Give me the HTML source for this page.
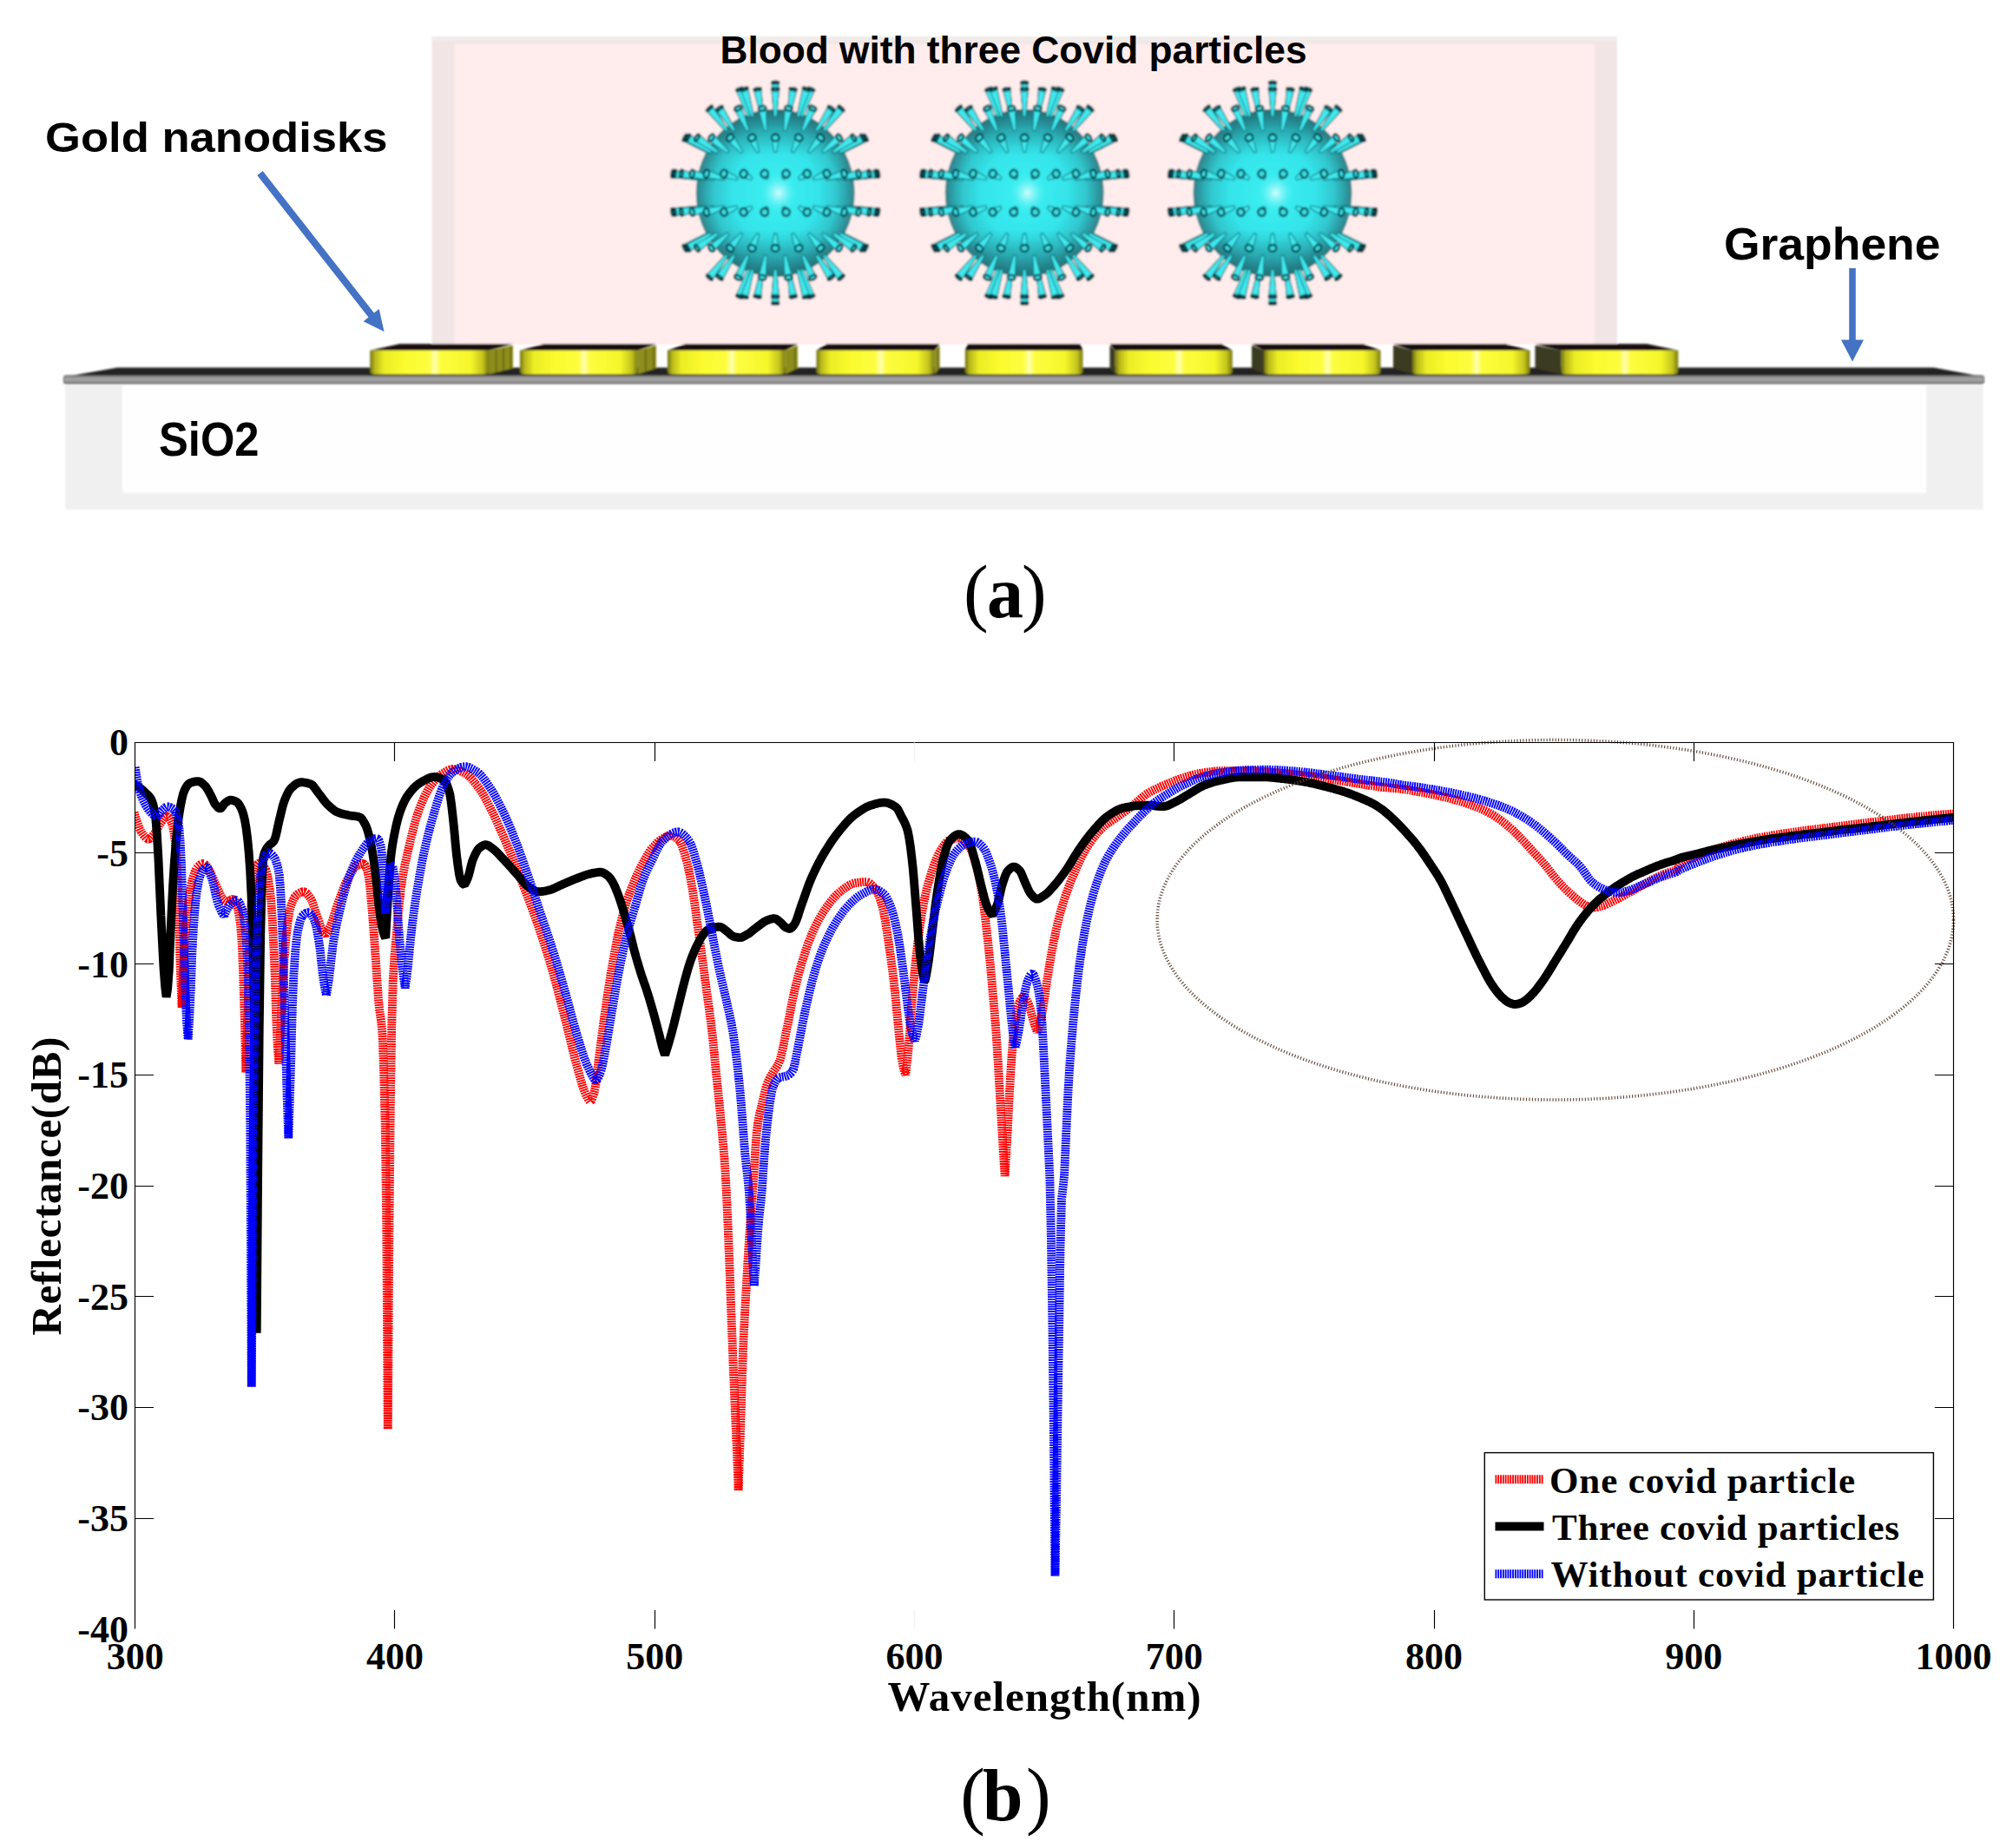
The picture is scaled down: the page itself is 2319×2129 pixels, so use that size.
<!DOCTYPE html><html><head><meta charset="utf-8"><title>Figure</title><style>
html,body{margin:0;padding:0;background:#fff}svg{display:block}
.sp{fill:#3fe9ee;stroke:#0f6f77;stroke-width:1}.cp{fill:#3adfe6;stroke:#04343a;stroke-width:2.2}
.tk{font-family:"Liberation Serif",serif;font-weight:bold;font-size:44px;fill:#000}
.lb{font-family:"Liberation Serif",serif;font-weight:bold;font-size:49px;fill:#000}
.lg{font-family:"Liberation Serif",serif;font-weight:bold;font-size:43px;fill:#000}
.sa{font-family:"Liberation Sans",sans-serif;font-weight:bold;fill:#000}
.cap{font-family:"Liberation Serif",serif;fill:#000}
.ax{stroke:#000;stroke-width:1.15;fill:none}
</style></head><body>
<svg width="2319" height="2129" viewBox="0 0 2319 2129">
<defs>
<radialGradient id="sph" cx="0.5" cy="0.5" r="0.5"><stop offset="0" stop-color="#3cf0f2"/><stop offset="0.55" stop-color="#34e4ea"/><stop offset="0.78" stop-color="#30c6cd"/><stop offset="0.92" stop-color="#2c9ba3"/><stop offset="1" stop-color="#357f86"/></radialGradient>
<radialGradient id="sph2" cx="0.52" cy="0.5" r="0.12"><stop offset="0" stop-color="#d9fdfd" stop-opacity="0.95"/><stop offset="0.5" stop-color="#8ff6f8" stop-opacity="0.5"/><stop offset="1" stop-color="#38eef2" stop-opacity="0"/></radialGradient>
<linearGradient id="gold" x1="0" x2="1" y1="0" y2="0"><stop offset="0" stop-color="#6e6e10"/><stop offset="0.04" stop-color="#b9b91c"/><stop offset="0.12" stop-color="#eded26"/><stop offset="0.3" stop-color="#fbfb2e"/><stop offset="0.5" stop-color="#fdfd40"/><stop offset="0.545" stop-color="#ffffb4"/><stop offset="0.59" stop-color="#fdfd40"/><stop offset="0.85" stop-color="#f6f62a"/><stop offset="0.95" stop-color="#c4c41e"/><stop offset="1" stop-color="#77770f"/></linearGradient>
<linearGradient id="gry" x1="0" x2="0" y1="0" y2="1"><stop offset="0" stop-color="#8a8a8a"/><stop offset="0.5" stop-color="#a6a6a6"/><stop offset="1" stop-color="#7c7c7c"/></linearGradient>
<filter id="soft" x="0" y="0" width="2319" height="620" filterUnits="userSpaceOnUse"><feGaussianBlur stdDeviation="0.85"/></filter>
<linearGradient id="sph3" x1="0" x2="0" y1="0" y2="1"><stop offset="0" stop-color="#185a62" stop-opacity="0.5"/><stop offset="0.28" stop-color="#185a62" stop-opacity="0"/><stop offset="0.72" stop-color="#185a62" stop-opacity="0"/><stop offset="1" stop-color="#185a62" stop-opacity="0.5"/></linearGradient>
<symbol id="virus" overflow="visible"><g transform="scale(1,1.057)"><g><polygon points="85.7,-13.9 116.7,-16.7 115.2,-25.1 85.1,-16.9" class="sp"/><ellipse cx="116.0" cy="-20.9" rx="1.3" ry="4.3" transform="rotate(-10.2 116.0 -20.9)" class="cp"/><polygon points="80.0,-13.9 109.1,-16.7 107.5,-25.1 79.5,-16.9" class="sp"/><ellipse cx="108.3" cy="-20.9" rx="1.7" ry="4.3" transform="rotate(-10.9 108.3 -20.9)" class="cp"/><polygon points="71.0,-13.9 96.8,-16.7 95.0,-25.1 70.3,-16.9" class="sp"/><ellipse cx="95.9" cy="-20.9" rx="2.5" ry="4.3" transform="rotate(-12.3 95.9 -20.9)" class="cp"/><polygon points="58.8,-13.9 80.4,-16.7 78.2,-25.1 58.0,-16.8" class="sp"/><ellipse cx="79.3" cy="-20.9" rx="3.1" ry="4.3" transform="rotate(-14.8 79.3 -20.9)" class="cp"/><polygon points="44.2,-14.0 60.7,-16.9 57.9,-25.0 43.2,-16.8" class="sp"/><ellipse cx="59.3" cy="-20.9" rx="3.7" ry="4.3" transform="rotate(-19.4 59.3 -20.9)" class="cp"/><polygon points="27.7,-14.1 38.8,-17.2 34.5,-24.6 26.2,-16.7" class="sp"/><ellipse cx="36.6" cy="-20.9" rx="4.0" ry="4.3" transform="rotate(-29.7 36.6 -20.9)" class="cp"/><polygon points="10.4,-14.6 16.1,-18.7 8.7,-23.1 7.8,-16.2" class="sp"/><ellipse cx="12.4" cy="-20.9" rx="4.2" ry="4.3" transform="rotate(-59.3 12.4 -20.9)" class="cp"/><polygon points="-7.8,-16.2 -8.7,-23.1 -16.1,-18.7 -10.4,-14.6" class="sp"/><ellipse cx="-12.4" cy="-20.9" rx="4.2" ry="4.3" transform="rotate(-120.7 -12.4 -20.9)" class="cp"/><polygon points="-26.2,-16.7 -34.5,-24.6 -38.8,-17.2 -27.7,-14.1" class="sp"/><ellipse cx="-36.6" cy="-20.9" rx="4.0" ry="4.3" transform="rotate(-150.3 -36.6 -20.9)" class="cp"/><polygon points="-43.2,-16.8 -57.9,-25.0 -60.7,-16.9 -44.2,-14.0" class="sp"/><ellipse cx="-59.3" cy="-20.9" rx="3.7" ry="4.3" transform="rotate(-160.6 -59.3 -20.9)" class="cp"/><polygon points="-58.0,-16.8 -78.2,-25.1 -80.4,-16.7 -58.8,-13.9" class="sp"/><ellipse cx="-79.3" cy="-20.9" rx="3.1" ry="4.3" transform="rotate(-165.2 -79.3 -20.9)" class="cp"/><polygon points="-70.3,-16.9 -95.0,-25.1 -96.8,-16.7 -71.0,-13.9" class="sp"/><ellipse cx="-95.9" cy="-20.9" rx="2.5" ry="4.3" transform="rotate(-167.7 -95.9 -20.9)" class="cp"/><polygon points="-79.5,-16.9 -107.5,-25.1 -109.1,-16.7 -80.0,-13.9" class="sp"/><ellipse cx="-108.3" cy="-20.9" rx="1.7" ry="4.3" transform="rotate(-169.1 -108.3 -20.9)" class="cp"/><polygon points="-85.1,-16.9 -115.2,-25.1 -116.7,-16.7 -85.7,-13.9" class="sp"/><ellipse cx="-116.0" cy="-20.9" rx="1.3" ry="4.3" transform="rotate(-169.8 -116.0 -20.9)" class="cp"/><polygon points="85.1,16.9 115.2,25.1 116.7,16.7 85.7,13.9" class="sp"/><ellipse cx="116.0" cy="20.9" rx="1.3" ry="4.3" transform="rotate(10.2 116.0 20.9)" class="cp"/><polygon points="79.5,16.9 107.5,25.1 109.1,16.7 80.0,13.9" class="sp"/><ellipse cx="108.3" cy="20.9" rx="1.7" ry="4.3" transform="rotate(10.9 108.3 20.9)" class="cp"/><polygon points="70.3,16.9 95.0,25.1 96.8,16.7 71.0,13.9" class="sp"/><ellipse cx="95.9" cy="20.9" rx="2.5" ry="4.3" transform="rotate(12.3 95.9 20.9)" class="cp"/><polygon points="58.0,16.8 78.2,25.1 80.4,16.7 58.8,13.9" class="sp"/><ellipse cx="79.3" cy="20.9" rx="3.1" ry="4.3" transform="rotate(14.8 79.3 20.9)" class="cp"/><polygon points="43.2,16.8 57.9,25.0 60.7,16.9 44.2,14.0" class="sp"/><ellipse cx="59.3" cy="20.9" rx="3.7" ry="4.3" transform="rotate(19.4 59.3 20.9)" class="cp"/><polygon points="26.2,16.7 34.5,24.6 38.8,17.2 27.7,14.1" class="sp"/><ellipse cx="36.6" cy="20.9" rx="4.0" ry="4.3" transform="rotate(29.7 36.6 20.9)" class="cp"/><polygon points="7.8,16.2 8.7,23.1 16.1,18.7 10.4,14.6" class="sp"/><ellipse cx="12.4" cy="20.9" rx="4.2" ry="4.3" transform="rotate(59.3 12.4 20.9)" class="cp"/><polygon points="-10.4,14.6 -16.1,18.7 -8.7,23.1 -7.8,16.2" class="sp"/><ellipse cx="-12.4" cy="20.9" rx="4.2" ry="4.3" transform="rotate(120.7 -12.4 20.9)" class="cp"/><polygon points="-27.7,14.1 -38.8,17.2 -34.5,24.6 -26.2,16.7" class="sp"/><ellipse cx="-36.6" cy="20.9" rx="4.0" ry="4.3" transform="rotate(150.3 -36.6 20.9)" class="cp"/><polygon points="-44.2,14.0 -60.7,16.9 -57.9,25.0 -43.2,16.8" class="sp"/><ellipse cx="-59.3" cy="20.9" rx="3.7" ry="4.3" transform="rotate(160.6 -59.3 20.9)" class="cp"/><polygon points="-58.8,13.9 -80.4,16.7 -78.2,25.1 -58.0,16.8" class="sp"/><ellipse cx="-79.3" cy="20.9" rx="3.1" ry="4.3" transform="rotate(165.2 -79.3 20.9)" class="cp"/><polygon points="-71.0,13.9 -96.8,16.7 -95.0,25.1 -70.3,16.9" class="sp"/><ellipse cx="-95.9" cy="20.9" rx="2.5" ry="4.3" transform="rotate(167.7 -95.9 20.9)" class="cp"/><polygon points="-80.0,13.9 -109.1,16.7 -107.5,25.1 -79.5,16.9" class="sp"/><ellipse cx="-108.3" cy="20.9" rx="1.7" ry="4.3" transform="rotate(169.1 -108.3 20.9)" class="cp"/><polygon points="-85.7,13.9 -116.7,16.7 -115.2,25.1 -85.1,16.9" class="sp"/><ellipse cx="-116.0" cy="20.9" rx="1.3" ry="4.3" transform="rotate(169.8 -116.0 20.9)" class="cp"/><polygon points="74.9,-43.0 102.9,-56.5 98.5,-63.9 73.4,-45.6" class="sp"/><ellipse cx="100.7" cy="-60.2" rx="1.3" ry="4.3" transform="rotate(-30.9 100.7 -60.2)" class="cp"/><polygon points="67.3,-43.1 92.7,-56.6 87.9,-63.8 65.7,-45.6" class="sp"/><ellipse cx="90.3" cy="-60.2" rx="1.9" ry="4.3" transform="rotate(-33.7 90.3 -60.2)" class="cp"/><polygon points="55.2,-43.2 76.4,-56.9 71.0,-63.5 53.3,-45.5" class="sp"/><ellipse cx="73.7" cy="-60.2" rx="2.6" ry="4.3" transform="rotate(-39.2 73.7 -60.2)" class="cp"/><polygon points="39.5,-43.3 55.4,-57.4 48.9,-63.0 37.3,-45.3" class="sp"/><ellipse cx="52.1" cy="-60.2" rx="3.2" ry="4.3" transform="rotate(-49.1 52.1 -60.2)" class="cp"/><polygon points="21.2,-43.7 30.9,-58.4 23.1,-62.0 18.5,-44.9" class="sp"/><ellipse cx="27.0" cy="-60.2" rx="3.6" ry="4.3" transform="rotate(-65.9 27.0 -60.2)" class="cp"/><polygon points="1.5,-44.3 4.3,-60.2 -4.3,-60.2 -1.5,-44.3" class="sp"/><ellipse cx="0.0" cy="-60.2" rx="3.7" ry="4.3" transform="rotate(-90.0 0.0 -60.2)" class="cp"/><polygon points="-18.5,-44.9 -23.1,-62.0 -30.9,-58.4 -21.2,-43.7" class="sp"/><ellipse cx="-27.0" cy="-60.2" rx="3.6" ry="4.3" transform="rotate(-114.1 -27.0 -60.2)" class="cp"/><polygon points="-37.3,-45.3 -48.9,-63.0 -55.4,-57.4 -39.5,-43.3" class="sp"/><ellipse cx="-52.1" cy="-60.2" rx="3.2" ry="4.3" transform="rotate(-130.9 -52.1 -60.2)" class="cp"/><polygon points="-53.3,-45.5 -71.0,-63.5 -76.4,-56.9 -55.2,-43.2" class="sp"/><ellipse cx="-73.7" cy="-60.2" rx="2.6" ry="4.3" transform="rotate(-140.8 -73.7 -60.2)" class="cp"/><polygon points="-65.7,-45.6 -87.9,-63.8 -92.7,-56.6 -67.3,-43.1" class="sp"/><ellipse cx="-90.3" cy="-60.2" rx="1.9" ry="4.3" transform="rotate(-146.3 -90.3 -60.2)" class="cp"/><polygon points="-73.4,-45.6 -98.5,-63.9 -102.9,-56.5 -74.9,-43.0" class="sp"/><ellipse cx="-100.7" cy="-60.2" rx="1.3" ry="4.3" transform="rotate(-149.1 -100.7 -60.2)" class="cp"/><polygon points="73.4,45.6 98.5,63.9 102.9,56.5 74.9,43.0" class="sp"/><ellipse cx="100.7" cy="60.2" rx="1.3" ry="4.3" transform="rotate(30.9 100.7 60.2)" class="cp"/><polygon points="65.7,45.6 87.9,63.8 92.7,56.6 67.3,43.1" class="sp"/><ellipse cx="90.3" cy="60.2" rx="1.9" ry="4.3" transform="rotate(33.7 90.3 60.2)" class="cp"/><polygon points="53.3,45.5 71.0,63.5 76.4,56.9 55.2,43.2" class="sp"/><ellipse cx="73.7" cy="60.2" rx="2.6" ry="4.3" transform="rotate(39.2 73.7 60.2)" class="cp"/><polygon points="37.3,45.3 48.9,63.0 55.4,57.4 39.5,43.3" class="sp"/><ellipse cx="52.1" cy="60.2" rx="3.2" ry="4.3" transform="rotate(49.1 52.1 60.2)" class="cp"/><polygon points="18.5,44.9 23.1,62.0 30.9,58.4 21.2,43.7" class="sp"/><ellipse cx="27.0" cy="60.2" rx="3.6" ry="4.3" transform="rotate(65.9 27.0 60.2)" class="cp"/><polygon points="-1.5,44.3 -4.3,60.2 4.3,60.2 1.5,44.3" class="sp"/><ellipse cx="0.0" cy="60.2" rx="3.7" ry="4.3" transform="rotate(90.0 0.0 60.2)" class="cp"/><polygon points="-21.2,43.7 -30.9,58.4 -23.1,62.0 -18.5,44.9" class="sp"/><ellipse cx="-27.0" cy="60.2" rx="3.6" ry="4.3" transform="rotate(114.1 -27.0 60.2)" class="cp"/><polygon points="-39.5,43.3 -55.4,57.4 -48.9,63.0 -37.3,45.3" class="sp"/><ellipse cx="-52.1" cy="60.2" rx="3.2" ry="4.3" transform="rotate(130.9 -52.1 60.2)" class="cp"/><polygon points="-55.2,43.2 -76.4,56.9 -71.0,63.5 -53.3,45.5" class="sp"/><ellipse cx="-73.7" cy="60.2" rx="2.6" ry="4.3" transform="rotate(140.8 -73.7 60.2)" class="cp"/><polygon points="-67.3,43.1 -92.7,56.6 -87.9,63.8 -65.7,45.6" class="sp"/><ellipse cx="-90.3" cy="60.2" rx="1.9" ry="4.3" transform="rotate(146.3 -90.3 60.2)" class="cp"/><polygon points="-74.9,43.0 -102.9,56.5 -98.5,63.9 -73.4,45.6" class="sp"/><ellipse cx="-100.7" cy="60.2" rx="1.3" ry="4.3" transform="rotate(149.1 -100.7 60.2)" class="cp"/><polygon points="57.1,-67.0 79.2,-89.5 72.6,-95.0 54.7,-68.9" class="sp"/><ellipse cx="75.9" cy="-92.2" rx="1.3" ry="4.3" transform="rotate(-50.5 75.9 -92.2)" class="cp"/><polygon points="48.6,-67.1 67.9,-89.8 60.8,-94.7 46.2,-68.8" class="sp"/><ellipse cx="64.3" cy="-92.2" rx="1.5" ry="4.3" transform="rotate(-55.1 64.3 -92.2)" class="cp"/><polygon points="33.0,-67.3 46.9,-90.4 39.1,-94.0 30.3,-68.5" class="sp"/><ellipse cx="43.0" cy="-92.2" rx="2.3" ry="4.3" transform="rotate(-65.0 43.0 -92.2)" class="cp"/><polygon points="12.6,-67.7 19.3,-91.5 10.9,-92.9 9.6,-68.2" class="sp"/><ellipse cx="15.1" cy="-92.2" rx="2.7" ry="4.3" transform="rotate(-80.7 15.1 -92.2)" class="cp"/><polygon points="-9.6,-68.2 -10.9,-92.9 -19.3,-91.5 -12.6,-67.7" class="sp"/><ellipse cx="-15.1" cy="-92.2" rx="2.7" ry="4.3" transform="rotate(-99.3 -15.1 -92.2)" class="cp"/><polygon points="-30.3,-68.5 -39.1,-94.0 -46.9,-90.4 -33.0,-67.3" class="sp"/><ellipse cx="-43.0" cy="-92.2" rx="2.3" ry="4.3" transform="rotate(-115.0 -43.0 -92.2)" class="cp"/><polygon points="-46.2,-68.8 -60.8,-94.7 -67.9,-89.8 -48.6,-67.1" class="sp"/><ellipse cx="-64.3" cy="-92.2" rx="1.5" ry="4.3" transform="rotate(-124.9 -64.3 -92.2)" class="cp"/><polygon points="-54.7,-68.9 -72.6,-95.0 -79.2,-89.5 -57.1,-67.0" class="sp"/><ellipse cx="-75.9" cy="-92.2" rx="1.3" ry="4.3" transform="rotate(-129.5 -75.9 -92.2)" class="cp"/><polygon points="54.7,68.9 72.6,95.0 79.2,89.5 57.1,67.0" class="sp"/><ellipse cx="75.9" cy="92.2" rx="1.3" ry="4.3" transform="rotate(50.5 75.9 92.2)" class="cp"/><polygon points="46.2,68.8 60.8,94.7 67.9,89.8 48.6,67.1" class="sp"/><ellipse cx="64.3" cy="92.2" rx="1.5" ry="4.3" transform="rotate(55.1 64.3 92.2)" class="cp"/><polygon points="30.3,68.5 39.1,94.0 46.9,90.4 33.0,67.3" class="sp"/><ellipse cx="43.0" cy="92.2" rx="2.3" ry="4.3" transform="rotate(65.0 43.0 92.2)" class="cp"/><polygon points="9.6,68.2 10.9,92.9 19.3,91.5 12.6,67.7" class="sp"/><ellipse cx="15.1" cy="92.2" rx="2.7" ry="4.3" transform="rotate(80.7 15.1 92.2)" class="cp"/><polygon points="-12.6,67.7 -19.3,91.5 -10.9,92.9 -9.6,68.2" class="sp"/><ellipse cx="-15.1" cy="92.2" rx="2.7" ry="4.3" transform="rotate(99.3 -15.1 92.2)" class="cp"/><polygon points="-33.0,67.3 -46.9,90.4 -39.1,94.0 -30.3,68.5" class="sp"/><ellipse cx="-43.0" cy="92.2" rx="2.3" ry="4.3" transform="rotate(115.0 -43.0 92.2)" class="cp"/><polygon points="-48.6,67.1 -67.9,89.8 -60.8,94.7 -46.2,68.8" class="sp"/><ellipse cx="-64.3" cy="92.2" rx="1.5" ry="4.3" transform="rotate(124.9 -64.3 92.2)" class="cp"/><polygon points="-57.1,67.0 -79.2,89.5 -72.6,95.0 -54.7,68.9" class="sp"/><ellipse cx="-75.9" cy="92.2" rx="1.3" ry="4.3" transform="rotate(129.5 -75.9 92.2)" class="cp"/><polygon points="27.7,-82.9 39.8,-111.8 31.6,-114.4 24.8,-83.8" class="sp"/><ellipse cx="35.7" cy="-113.1" rx="1.3" ry="4.3" transform="rotate(-72.5 35.7 -113.1)" class="cp"/><polygon points="16.6,-83.0 24.8,-112.4 16.4,-113.9 13.7,-83.6" class="sp"/><ellipse cx="20.6" cy="-113.1" rx="1.3" ry="4.3" transform="rotate(-79.7 20.6 -113.1)" class="cp"/><polygon points="1.5,-83.3 4.3,-113.1 -4.3,-113.1 -1.5,-83.3" class="sp"/><ellipse cx="0.0" cy="-113.1" rx="1.5" ry="4.3" transform="rotate(-90.0 0.0 -113.1)" class="cp"/><polygon points="-13.7,-83.6 -16.4,-113.9 -24.8,-112.4 -16.6,-83.0" class="sp"/><ellipse cx="-20.6" cy="-113.1" rx="1.3" ry="4.3" transform="rotate(-100.3 -20.6 -113.1)" class="cp"/><polygon points="-24.8,-83.8 -31.6,-114.4 -39.8,-111.8 -27.7,-82.9" class="sp"/><ellipse cx="-35.7" cy="-113.1" rx="1.3" ry="4.3" transform="rotate(-107.5 -35.7 -113.1)" class="cp"/><polygon points="24.8,83.8 31.6,114.4 39.8,111.8 27.7,82.9" class="sp"/><ellipse cx="35.7" cy="113.1" rx="1.3" ry="4.3" transform="rotate(72.5 35.7 113.1)" class="cp"/><polygon points="13.7,83.6 16.4,113.9 24.8,112.4 16.6,83.0" class="sp"/><ellipse cx="20.6" cy="113.1" rx="1.3" ry="4.3" transform="rotate(79.7 20.6 113.1)" class="cp"/><polygon points="-1.5,83.3 -4.3,113.1 4.3,113.1 1.5,83.3" class="sp"/><ellipse cx="0.0" cy="113.1" rx="1.5" ry="4.3" transform="rotate(90.0 0.0 113.1)" class="cp"/><polygon points="-16.6,83.0 -24.8,112.4 -16.4,113.9 -13.7,83.6" class="sp"/><ellipse cx="-20.6" cy="113.1" rx="1.3" ry="4.3" transform="rotate(100.3 -20.6 113.1)" class="cp"/><polygon points="-27.7,82.9 -39.8,111.8 -31.6,114.4 -24.8,83.8" class="sp"/><ellipse cx="-35.7" cy="113.1" rx="1.3" ry="4.3" transform="rotate(107.5 -35.7 113.1)" class="cp"/></g><circle r="91.4" fill="url(#sph)"/><circle r="91.4" fill="url(#sph3)"/><circle r="91.4" fill="url(#sph2)"/><g><polygon points="-87.1,-16.9 -117.8,-25.1 -119.3,-16.7 -87.6,-13.9" class="sp"/><ellipse cx="-118.6" cy="-20.9" rx="1.3" ry="4.3" transform="rotate(-170.0 -118.6 -20.9)" class="cp"/><polygon points="-87.6,13.9 -119.3,16.7 -117.8,25.1 -87.1,16.9" class="sp"/><ellipse cx="-118.6" cy="20.9" rx="1.3" ry="4.3" transform="rotate(170.0 -118.6 20.9)" class="cp"/><polygon points="-76.0,-45.6 -102.1,-63.9 -106.4,-56.5 -77.5,-43.0" class="sp"/><ellipse cx="-104.3" cy="-60.2" rx="1.3" ry="4.3" transform="rotate(-150.0 -104.3 -60.2)" class="cp"/><polygon points="-77.5,43.0 -106.4,56.5 -102.1,63.9 -76.0,45.6" class="sp"/><ellipse cx="-104.3" cy="60.2" rx="1.3" ry="4.3" transform="rotate(150.0 -104.3 60.2)" class="cp"/><polygon points="-28.9,-83.8 -37.1,-114.6 -45.2,-111.7 -31.7,-82.8" class="sp"/><ellipse cx="-41.2" cy="-113.1" rx="1.3" ry="4.3" transform="rotate(-110.0 -41.2 -113.1)" class="cp"/><polygon points="-31.7,82.8 -45.2,111.7 -37.1,114.6 -28.9,83.8" class="sp"/><ellipse cx="-41.2" cy="113.1" rx="1.3" ry="4.3" transform="rotate(110.0 -41.2 113.1)" class="cp"/><polygon points="1.5,-88.7 4.3,-120.4 -4.3,-120.4 -1.5,-88.7" class="sp"/><ellipse cx="0.0" cy="-120.4" rx="1.3" ry="4.3" transform="rotate(-90.0 0.0 -120.4)" class="cp"/><polygon points="-1.5,88.7 -4.3,120.4 4.3,120.4 1.5,88.7" class="sp"/><ellipse cx="0.0" cy="120.4" rx="1.3" ry="4.3" transform="rotate(90.0 0.0 120.4)" class="cp"/><polygon points="31.7,-82.8 45.2,-111.7 37.1,-114.6 28.9,-83.8" class="sp"/><ellipse cx="41.2" cy="-113.1" rx="1.3" ry="4.3" transform="rotate(-70.0 41.2 -113.1)" class="cp"/><polygon points="28.9,83.8 37.1,114.6 45.2,111.7 31.7,82.8" class="sp"/><ellipse cx="41.2" cy="113.1" rx="1.3" ry="4.3" transform="rotate(70.0 41.2 113.1)" class="cp"/><polygon points="77.5,-43.0 106.4,-56.5 102.1,-63.9 76.0,-45.6" class="sp"/><ellipse cx="104.3" cy="-60.2" rx="1.3" ry="4.3" transform="rotate(-30.0 104.3 -60.2)" class="cp"/><polygon points="76.0,45.6 102.1,63.9 106.4,56.5 77.5,43.0" class="sp"/><ellipse cx="104.3" cy="60.2" rx="1.3" ry="4.3" transform="rotate(30.0 104.3 60.2)" class="cp"/><polygon points="87.6,-13.9 119.3,-16.7 117.8,-25.1 87.1,-16.9" class="sp"/><ellipse cx="118.6" cy="-20.9" rx="1.3" ry="4.3" transform="rotate(-10.0 118.6 -20.9)" class="cp"/><polygon points="87.1,16.9 117.8,25.1 119.3,16.7 87.6,13.9" class="sp"/><ellipse cx="118.6" cy="20.9" rx="1.3" ry="4.3" transform="rotate(10.0 118.6 20.9)" class="cp"/><polygon points="-54.7,-68.9 -72.6,-95.0 -79.2,-89.5 -57.1,-67.0" class="sp"/><ellipse cx="-75.9" cy="-92.2" rx="1.3" ry="4.3" transform="rotate(-129.5 -75.9 -92.2)" class="cp"/><polygon points="-57.1,67.0 -79.2,89.5 -72.6,95.0 -54.7,68.9" class="sp"/><ellipse cx="-75.9" cy="92.2" rx="1.3" ry="4.3" transform="rotate(129.5 -75.9 92.2)" class="cp"/><polygon points="57.1,-67.0 79.2,-89.5 72.6,-95.0 54.7,-68.9" class="sp"/><ellipse cx="75.9" cy="-92.2" rx="1.3" ry="4.3" transform="rotate(-50.5 75.9 -92.2)" class="cp"/><polygon points="54.7,68.9 72.6,95.0 79.2,89.5 57.1,67.0" class="sp"/><ellipse cx="75.9" cy="92.2" rx="1.3" ry="4.3" transform="rotate(50.5 75.9 92.2)" class="cp"/><polygon points="27.7,-82.9 39.8,-111.8 31.6,-114.4 24.8,-83.8" class="sp"/><ellipse cx="35.7" cy="-113.1" rx="1.3" ry="4.3" transform="rotate(-72.5 35.7 -113.1)" class="cp"/><polygon points="-24.8,-83.8 -31.6,-114.4 -39.8,-111.8 -27.7,-82.9" class="sp"/><ellipse cx="-35.7" cy="-113.1" rx="1.3" ry="4.3" transform="rotate(-107.5 -35.7 -113.1)" class="cp"/><polygon points="24.8,83.8 31.6,114.4 39.8,111.8 27.7,82.9" class="sp"/><ellipse cx="35.7" cy="113.1" rx="1.3" ry="4.3" transform="rotate(72.5 35.7 113.1)" class="cp"/><polygon points="-27.7,82.9 -39.8,111.8 -31.6,114.4 -24.8,83.8" class="sp"/><ellipse cx="-35.7" cy="113.1" rx="1.3" ry="4.3" transform="rotate(107.5 -35.7 113.1)" class="cp"/><polygon points="-85.1,-16.9 -115.2,-25.1 -116.7,-16.7 -85.7,-13.9" class="sp"/><ellipse cx="-116.0" cy="-20.9" rx="1.3" ry="4.3" transform="rotate(-169.8 -116.0 -20.9)" class="cp"/><polygon points="-85.7,13.9 -116.7,16.7 -115.2,25.1 -85.1,16.9" class="sp"/><ellipse cx="-116.0" cy="20.9" rx="1.3" ry="4.3" transform="rotate(169.8 -116.0 20.9)" class="cp"/><polygon points="85.7,-13.9 116.7,-16.7 115.2,-25.1 85.1,-16.9" class="sp"/><ellipse cx="116.0" cy="-20.9" rx="1.3" ry="4.3" transform="rotate(-10.2 116.0 -20.9)" class="cp"/><polygon points="85.1,16.9 115.2,25.1 116.7,16.7 85.7,13.9" class="sp"/><ellipse cx="116.0" cy="20.9" rx="1.3" ry="4.3" transform="rotate(10.2 116.0 20.9)" class="cp"/><polygon points="-73.4,-45.6 -98.5,-63.9 -102.9,-56.5 -74.9,-43.0" class="sp"/><ellipse cx="-100.7" cy="-60.2" rx="1.3" ry="4.3" transform="rotate(-149.1 -100.7 -60.2)" class="cp"/><polygon points="-74.9,43.0 -102.9,56.5 -98.5,63.9 -73.4,45.6" class="sp"/><ellipse cx="-100.7" cy="60.2" rx="1.3" ry="4.3" transform="rotate(149.1 -100.7 60.2)" class="cp"/><polygon points="74.9,-43.0 102.9,-56.5 98.5,-63.9 73.4,-45.6" class="sp"/><ellipse cx="100.7" cy="-60.2" rx="1.3" ry="4.3" transform="rotate(-30.9 100.7 -60.2)" class="cp"/><polygon points="73.4,45.6 98.5,63.9 102.9,56.5 74.9,43.0" class="sp"/><ellipse cx="100.7" cy="60.2" rx="1.3" ry="4.3" transform="rotate(30.9 100.7 60.2)" class="cp"/><polygon points="-13.7,-83.6 -16.4,-113.9 -24.8,-112.4 -16.6,-83.0" class="sp"/><ellipse cx="-20.6" cy="-113.1" rx="1.3" ry="4.3" transform="rotate(-100.3 -20.6 -113.1)" class="cp"/><polygon points="-16.6,83.0 -24.8,112.4 -16.4,113.9 -13.7,83.6" class="sp"/><ellipse cx="-20.6" cy="113.1" rx="1.3" ry="4.3" transform="rotate(100.3 -20.6 113.1)" class="cp"/><polygon points="16.6,-83.0 24.8,-112.4 16.4,-113.9 13.7,-83.6" class="sp"/><ellipse cx="20.6" cy="-113.1" rx="1.3" ry="4.3" transform="rotate(-79.7 20.6 -113.1)" class="cp"/><polygon points="13.7,83.6 16.4,113.9 24.8,112.4 16.6,83.0" class="sp"/><ellipse cx="20.6" cy="113.1" rx="1.3" ry="4.3" transform="rotate(79.7 20.6 113.1)" class="cp"/><polygon points="1.5,-83.3 4.3,-113.1 -4.3,-113.1 -1.5,-83.3" class="sp"/><ellipse cx="0.0" cy="-113.1" rx="1.5" ry="4.3" transform="rotate(-90.0 0.0 -113.1)" class="cp"/><polygon points="-1.5,83.3 -4.3,113.1 4.3,113.1 1.5,83.3" class="sp"/><ellipse cx="0.0" cy="113.1" rx="1.5" ry="4.3" transform="rotate(90.0 0.0 113.1)" class="cp"/><polygon points="-46.2,-68.8 -60.8,-94.7 -67.9,-89.8 -48.6,-67.1" class="sp"/><ellipse cx="-64.3" cy="-92.2" rx="1.5" ry="4.3" transform="rotate(-124.9 -64.3 -92.2)" class="cp"/><polygon points="-48.6,67.1 -67.9,89.8 -60.8,94.7 -46.2,68.8" class="sp"/><ellipse cx="-64.3" cy="92.2" rx="1.5" ry="4.3" transform="rotate(124.9 -64.3 92.2)" class="cp"/><polygon points="48.6,-67.1 67.9,-89.8 60.8,-94.7 46.2,-68.8" class="sp"/><ellipse cx="64.3" cy="-92.2" rx="1.5" ry="4.3" transform="rotate(-55.1 64.3 -92.2)" class="cp"/><polygon points="46.2,68.8 60.8,94.7 67.9,89.8 48.6,67.1" class="sp"/><ellipse cx="64.3" cy="92.2" rx="1.5" ry="4.3" transform="rotate(55.1 64.3 92.2)" class="cp"/><polygon points="-79.5,-16.9 -107.5,-25.1 -109.1,-16.7 -80.0,-13.9" class="sp"/><ellipse cx="-108.3" cy="-20.9" rx="1.7" ry="4.3" transform="rotate(-169.1 -108.3 -20.9)" class="cp"/><polygon points="-80.0,13.9 -109.1,16.7 -107.5,25.1 -79.5,16.9" class="sp"/><ellipse cx="-108.3" cy="20.9" rx="1.7" ry="4.3" transform="rotate(169.1 -108.3 20.9)" class="cp"/><polygon points="80.0,-13.9 109.1,-16.7 107.5,-25.1 79.5,-16.9" class="sp"/><ellipse cx="108.3" cy="-20.9" rx="1.7" ry="4.3" transform="rotate(-10.9 108.3 -20.9)" class="cp"/><polygon points="79.5,16.9 107.5,25.1 109.1,16.7 80.0,13.9" class="sp"/><ellipse cx="108.3" cy="20.9" rx="1.7" ry="4.3" transform="rotate(10.9 108.3 20.9)" class="cp"/><polygon points="67.3,-43.1 92.7,-56.6 87.9,-63.8 65.7,-45.6" class="sp"/><ellipse cx="90.3" cy="-60.2" rx="1.9" ry="4.3" transform="rotate(-33.7 90.3 -60.2)" class="cp"/><polygon points="-65.7,-45.6 -87.9,-63.8 -92.7,-56.6 -67.3,-43.1" class="sp"/><ellipse cx="-90.3" cy="-60.2" rx="1.9" ry="4.3" transform="rotate(-146.3 -90.3 -60.2)" class="cp"/><polygon points="65.7,45.6 87.9,63.8 92.7,56.6 67.3,43.1" class="sp"/><ellipse cx="90.3" cy="60.2" rx="1.9" ry="4.3" transform="rotate(33.7 90.3 60.2)" class="cp"/><polygon points="-67.3,43.1 -92.7,56.6 -87.9,63.8 -65.7,45.6" class="sp"/><ellipse cx="-90.3" cy="60.2" rx="1.9" ry="4.3" transform="rotate(146.3 -90.3 60.2)" class="cp"/><polygon points="33.0,-67.3 46.9,-90.4 39.1,-94.0 30.3,-68.5" class="sp"/><ellipse cx="43.0" cy="-92.2" rx="2.3" ry="4.3" transform="rotate(-65.0 43.0 -92.2)" class="cp"/><polygon points="-30.3,-68.5 -39.1,-94.0 -46.9,-90.4 -33.0,-67.3" class="sp"/><ellipse cx="-43.0" cy="-92.2" rx="2.3" ry="4.3" transform="rotate(-115.0 -43.0 -92.2)" class="cp"/><polygon points="30.3,68.5 39.1,94.0 46.9,90.4 33.0,67.3" class="sp"/><ellipse cx="43.0" cy="92.2" rx="2.3" ry="4.3" transform="rotate(65.0 43.0 92.2)" class="cp"/><polygon points="-33.0,67.3 -46.9,90.4 -39.1,94.0 -30.3,68.5" class="sp"/><ellipse cx="-43.0" cy="92.2" rx="2.3" ry="4.3" transform="rotate(115.0 -43.0 92.2)" class="cp"/><polygon points="-70.3,-16.9 -95.0,-25.1 -96.8,-16.7 -71.0,-13.9" class="sp"/><ellipse cx="-95.9" cy="-20.9" rx="2.5" ry="4.3" transform="rotate(-167.7 -95.9 -20.9)" class="cp"/><polygon points="-71.0,13.9 -96.8,16.7 -95.0,25.1 -70.3,16.9" class="sp"/><ellipse cx="-95.9" cy="20.9" rx="2.5" ry="4.3" transform="rotate(167.7 -95.9 20.9)" class="cp"/><polygon points="71.0,-13.9 96.8,-16.7 95.0,-25.1 70.3,-16.9" class="sp"/><ellipse cx="95.9" cy="-20.9" rx="2.5" ry="4.3" transform="rotate(-12.3 95.9 -20.9)" class="cp"/><polygon points="70.3,16.9 95.0,25.1 96.8,16.7 71.0,13.9" class="sp"/><ellipse cx="95.9" cy="20.9" rx="2.5" ry="4.3" transform="rotate(12.3 95.9 20.9)" class="cp"/><polygon points="-53.3,-45.5 -71.0,-63.5 -76.4,-56.9 -55.2,-43.2" class="sp"/><ellipse cx="-73.7" cy="-60.2" rx="2.6" ry="4.3" transform="rotate(-140.8 -73.7 -60.2)" class="cp"/><polygon points="-55.2,43.2 -76.4,56.9 -71.0,63.5 -53.3,45.5" class="sp"/><ellipse cx="-73.7" cy="60.2" rx="2.6" ry="4.3" transform="rotate(140.8 -73.7 60.2)" class="cp"/><polygon points="55.2,-43.2 76.4,-56.9 71.0,-63.5 53.3,-45.5" class="sp"/><ellipse cx="73.7" cy="-60.2" rx="2.6" ry="4.3" transform="rotate(-39.2 73.7 -60.2)" class="cp"/><polygon points="53.3,45.5 71.0,63.5 76.4,56.9 55.2,43.2" class="sp"/><ellipse cx="73.7" cy="60.2" rx="2.6" ry="4.3" transform="rotate(39.2 73.7 60.2)" class="cp"/><polygon points="12.6,-67.7 19.3,-91.5 10.9,-92.9 9.6,-68.2" class="sp"/><ellipse cx="15.1" cy="-92.2" rx="2.7" ry="4.3" transform="rotate(-80.7 15.1 -92.2)" class="cp"/><polygon points="-9.6,-68.2 -10.9,-92.9 -19.3,-91.5 -12.6,-67.7" class="sp"/><ellipse cx="-15.1" cy="-92.2" rx="2.7" ry="4.3" transform="rotate(-99.3 -15.1 -92.2)" class="cp"/><polygon points="9.6,68.2 10.9,92.9 19.3,91.5 12.6,67.7" class="sp"/><ellipse cx="15.1" cy="92.2" rx="2.7" ry="4.3" transform="rotate(80.7 15.1 92.2)" class="cp"/><polygon points="-12.6,67.7 -19.3,91.5 -10.9,92.9 -9.6,68.2" class="sp"/><ellipse cx="-15.1" cy="92.2" rx="2.7" ry="4.3" transform="rotate(99.3 -15.1 92.2)" class="cp"/><polygon points="58.8,-13.9 80.4,-16.7 78.2,-25.1 58.0,-16.8" class="sp"/><ellipse cx="79.3" cy="-20.9" rx="3.1" ry="4.3" transform="rotate(-14.8 79.3 -20.9)" class="cp"/><polygon points="-58.0,-16.8 -78.2,-25.1 -80.4,-16.7 -58.8,-13.9" class="sp"/><ellipse cx="-79.3" cy="-20.9" rx="3.1" ry="4.3" transform="rotate(-165.2 -79.3 -20.9)" class="cp"/><polygon points="58.0,16.8 78.2,25.1 80.4,16.7 58.8,13.9" class="sp"/><ellipse cx="79.3" cy="20.9" rx="3.1" ry="4.3" transform="rotate(14.8 79.3 20.9)" class="cp"/><polygon points="-58.8,13.9 -80.4,16.7 -78.2,25.1 -58.0,16.8" class="sp"/><ellipse cx="-79.3" cy="20.9" rx="3.1" ry="4.3" transform="rotate(165.2 -79.3 20.9)" class="cp"/><polygon points="-37.3,-45.3 -48.9,-63.0 -55.4,-57.4 -39.5,-43.3" class="sp"/><ellipse cx="-52.1" cy="-60.2" rx="3.2" ry="4.3" transform="rotate(-130.9 -52.1 -60.2)" class="cp"/><polygon points="-39.5,43.3 -55.4,57.4 -48.9,63.0 -37.3,45.3" class="sp"/><ellipse cx="-52.1" cy="60.2" rx="3.2" ry="4.3" transform="rotate(130.9 -52.1 60.2)" class="cp"/><polygon points="39.5,-43.3 55.4,-57.4 48.9,-63.0 37.3,-45.3" class="sp"/><ellipse cx="52.1" cy="-60.2" rx="3.2" ry="4.3" transform="rotate(-49.1 52.1 -60.2)" class="cp"/><polygon points="37.3,45.3 48.9,63.0 55.4,57.4 39.5,43.3" class="sp"/><ellipse cx="52.1" cy="60.2" rx="3.2" ry="4.3" transform="rotate(49.1 52.1 60.2)" class="cp"/><polygon points="21.2,-43.7 30.9,-58.4 23.1,-62.0 18.5,-44.9" class="sp"/><ellipse cx="27.0" cy="-60.2" rx="3.6" ry="4.3" transform="rotate(-65.9 27.0 -60.2)" class="cp"/><polygon points="-18.5,-44.9 -23.1,-62.0 -30.9,-58.4 -21.2,-43.7" class="sp"/><ellipse cx="-27.0" cy="-60.2" rx="3.6" ry="4.3" transform="rotate(-114.1 -27.0 -60.2)" class="cp"/><polygon points="18.5,44.9 23.1,62.0 30.9,58.4 21.2,43.7" class="sp"/><ellipse cx="27.0" cy="60.2" rx="3.6" ry="4.3" transform="rotate(65.9 27.0 60.2)" class="cp"/><polygon points="-21.2,43.7 -30.9,58.4 -23.1,62.0 -18.5,44.9" class="sp"/><ellipse cx="-27.0" cy="60.2" rx="3.6" ry="4.3" transform="rotate(114.1 -27.0 60.2)" class="cp"/><polygon points="-43.2,-16.8 -57.9,-25.0 -60.7,-16.9 -44.2,-14.0" class="sp"/><ellipse cx="-59.3" cy="-20.9" rx="3.7" ry="4.3" transform="rotate(-160.6 -59.3 -20.9)" class="cp"/><polygon points="-44.2,14.0 -60.7,16.9 -57.9,25.0 -43.2,16.8" class="sp"/><ellipse cx="-59.3" cy="20.9" rx="3.7" ry="4.3" transform="rotate(160.6 -59.3 20.9)" class="cp"/><polygon points="44.2,-14.0 60.7,-16.9 57.9,-25.0 43.2,-16.8" class="sp"/><ellipse cx="59.3" cy="-20.9" rx="3.7" ry="4.3" transform="rotate(-19.4 59.3 -20.9)" class="cp"/><polygon points="43.2,16.8 57.9,25.0 60.7,16.9 44.2,14.0" class="sp"/><ellipse cx="59.3" cy="20.9" rx="3.7" ry="4.3" transform="rotate(19.4 59.3 20.9)" class="cp"/><polygon points="1.5,-44.3 4.3,-60.2 -4.3,-60.2 -1.5,-44.3" class="sp"/><ellipse cx="0.0" cy="-60.2" rx="3.7" ry="4.3" transform="rotate(-90.0 0.0 -60.2)" class="cp"/><polygon points="-1.5,44.3 -4.3,60.2 4.3,60.2 1.5,44.3" class="sp"/><ellipse cx="0.0" cy="60.2" rx="3.7" ry="4.3" transform="rotate(90.0 0.0 60.2)" class="cp"/><polygon points="27.7,-14.1 38.8,-17.2 34.5,-24.6 26.2,-16.7" class="sp"/><ellipse cx="36.6" cy="-20.9" rx="4.0" ry="4.3" transform="rotate(-29.7 36.6 -20.9)" class="cp"/><polygon points="-26.2,-16.7 -34.5,-24.6 -38.8,-17.2 -27.7,-14.1" class="sp"/><ellipse cx="-36.6" cy="-20.9" rx="4.0" ry="4.3" transform="rotate(-150.3 -36.6 -20.9)" class="cp"/><polygon points="26.2,16.7 34.5,24.6 38.8,17.2 27.7,14.1" class="sp"/><ellipse cx="36.6" cy="20.9" rx="4.0" ry="4.3" transform="rotate(29.7 36.6 20.9)" class="cp"/><polygon points="-27.7,14.1 -38.8,17.2 -34.5,24.6 -26.2,16.7" class="sp"/><ellipse cx="-36.6" cy="20.9" rx="4.0" ry="4.3" transform="rotate(150.3 -36.6 20.9)" class="cp"/><polygon points="10.4,-14.6 16.1,-18.7 8.7,-23.1 7.8,-16.2" class="sp"/><ellipse cx="12.4" cy="-20.9" rx="4.2" ry="4.3" transform="rotate(-59.3 12.4 -20.9)" class="cp"/><polygon points="-7.8,-16.2 -8.7,-23.1 -16.1,-18.7 -10.4,-14.6" class="sp"/><ellipse cx="-12.4" cy="-20.9" rx="4.2" ry="4.3" transform="rotate(-120.7 -12.4 -20.9)" class="cp"/><polygon points="7.8,16.2 8.7,23.1 16.1,18.7 10.4,14.6" class="sp"/><ellipse cx="12.4" cy="20.9" rx="4.2" ry="4.3" transform="rotate(59.3 12.4 20.9)" class="cp"/><polygon points="-10.4,14.6 -16.1,18.7 -8.7,23.1 -7.8,16.2" class="sp"/><ellipse cx="-12.4" cy="20.9" rx="4.2" ry="4.3" transform="rotate(120.7 -12.4 20.9)" class="cp"/></g></g></symbol>
<clipPath id="plot"><rect x="155.5" y="855.5" width="2095.0" height="1021.0"/></clipPath>
</defs>
<rect width="2319" height="2129" fill="#fff"/>
<g id="diagram" filter="url(#soft)">
<rect x="75" y="444" width="2209.5" height="143" fill="#f0f0f0"/>
<rect x="141" y="444" width="2078" height="124" fill="#fefefe"/>
<rect x="497.5" y="42" width="1365.5" height="355" fill="#f1e5e5"/>
<rect x="497.5" y="42" width="1365.5" height="5" fill="#efebe9"/>
<rect x="523.5" y="50.5" width="1313.5" height="346.5" fill="#feedec"/>
<polygon points="78,433.5 135,423.5 2228,423.5 2282,433.5" fill="#222222"/>
<rect x="73.5" y="432.8" width="2212" height="9.2" rx="2" fill="url(#gry)" stroke="#555" stroke-width="1"/>
<polygon points="426.3,403.8 460.3,396.3 591.0,396.3 563.0,403.8" fill="#160808"/>
<polygon points="563.0,403.8 591.0,397.8 591.0,424.3 563.0,431.3" fill="#8d8d1c"/>
<line x1="571.5" y1="403.0" x2="571.5" y2="429.2" stroke="#5e5e12" stroke-width="1.4"/>
<line x1="580.0" y1="401.2" x2="580.0" y2="427.1" stroke="#5e5e12" stroke-width="1.4"/>
<line x1="588.5" y1="399.3" x2="588.5" y2="424.9" stroke="#5e5e12" stroke-width="1.4"/>
<path d="M426.3 403.8 H563.0 V428.3 Q563.0 431.3 557.0 431.3 H432.3 Q426.3 431.3 426.3 428.3 Z" fill="url(#gold)"/>
<polygon points="599.0,403.8 626.5,396.3 756.0,396.3 734.5,403.8" fill="#160808"/>
<polygon points="734.5,403.8 756.0,397.8 756.0,424.3 734.5,431.3" fill="#8d8d1c"/>
<line x1="743.8" y1="402.2" x2="743.8" y2="428.3" stroke="#5e5e12" stroke-width="1.4"/>
<line x1="753.2" y1="399.6" x2="753.2" y2="425.2" stroke="#5e5e12" stroke-width="1.4"/>
<path d="M599.0 403.8 H734.5 V428.3 Q734.5 431.3 728.5 431.3 H605.0 Q599.0 431.3 599.0 428.3 Z" fill="url(#gold)"/>
<polygon points="769.0,403.8 789.5,396.3 919.0,396.3 904.5,403.8" fill="#160808"/>
<polygon points="904.5,403.8 919.0,397.8 919.0,424.3 904.5,431.3" fill="#8d8d1c"/>
<line x1="915.7" y1="400.2" x2="915.7" y2="425.9" stroke="#5e5e12" stroke-width="1.4"/>
<path d="M769.0 403.8 H904.5 V428.3 Q904.5 431.3 898.5 431.3 H775.0 Q769.0 431.3 769.0 428.3 Z" fill="url(#gold)"/>
<polygon points="940.5,403.8 952.5,396.3 1082.5,396.3 1076.5,403.8" fill="#160808"/>
<polygon points="1076.5,403.8 1082.5,397.8 1082.5,424.3 1076.5,431.3" fill="#8d8d1c"/>
<line x1="1081.1" y1="400.2" x2="1081.1" y2="425.9" stroke="#5e5e12" stroke-width="1.4"/>
<path d="M940.5 403.8 H1076.5 V428.3 Q1076.5 431.3 1070.5 431.3 H946.5 Q940.5 431.3 940.5 428.3 Z" fill="url(#gold)"/>
<polygon points="1111.8,403.8 1114.8,396.3 1244.4,396.3 1247.4,403.8" fill="#160808"/>
<path d="M1111.8 403.8 H1247.4 V428.3 Q1247.4 431.3 1241.4 431.3 H1117.8 Q1111.8 431.3 1111.8 428.3 Z" fill="url(#gold)"/>
<polygon points="1284.6,403.8 1278.5,396.3 1407.6,396.3 1419.7,403.8" fill="#160808"/>
<polygon points="1284.6,403.8 1278.5,397.8 1278.5,424.3 1284.6,431.3" fill="#3a3a24"/>
<path d="M1284.6 403.8 H1419.7 V428.3 Q1419.7 431.3 1413.7 431.3 H1290.6 Q1284.6 431.3 1284.6 428.3 Z" fill="url(#gold)"/>
<polygon points="1456.0,403.8 1442.0,396.3 1570.5,396.3 1590.5,403.8" fill="#160808"/>
<polygon points="1456.0,403.8 1442.0,397.8 1442.0,424.3 1456.0,431.3" fill="#3a3a24"/>
<path d="M1456.0 403.8 H1590.5 V428.3 Q1590.5 431.3 1584.5 431.3 H1462.0 Q1456.0 431.3 1456.0 428.3 Z" fill="url(#gold)"/>
<polygon points="1627.0,403.8 1605.0,396.3 1734.5,396.3 1762.5,403.8" fill="#160808"/>
<polygon points="1627.0,403.8 1605.0,397.8 1605.0,424.3 1627.0,431.3" fill="#3a3a24"/>
<path d="M1627.0 403.8 H1762.5 V428.3 Q1762.5 431.3 1756.5 431.3 H1633.0 Q1627.0 431.3 1627.0 428.3 Z" fill="url(#gold)"/>
<polygon points="1798.3,403.8 1768.5,396.3 1897.5,396.3 1933.3,403.8" fill="#160808"/>
<polygon points="1798.3,403.8 1768.5,397.8 1768.5,424.3 1798.3,431.3" fill="#3a3a24"/>
<path d="M1798.3 403.8 H1933.3 V428.3 Q1933.3 431.3 1927.3 431.3 H1804.3 Q1798.3 431.3 1798.3 428.3 Z" fill="url(#gold)"/>
<use href="#virus" x="893.2" y="222.3"/>
<use href="#virus" x="1180.2" y="222.3"/>
<use href="#virus" x="1466.0" y="222.3"/>
</g><g id="labels">
<polygon points="296.3,202.0 424.5,365.6 418.6,370.2 442.5,382.0 436.7,356.0 430.9,360.6 302.7,197.0" fill="#4472c4"/>
<polygon points="2130.2,309.0 2130.2,391.5 2121.0,391.5 2134.0,416.5 2147.0,391.5 2137.8,391.5 2137.8,309.0" fill="#4472c4"/>
<text class="sa" x="829.5" y="73.3" font-size="44" textLength="676" lengthAdjust="spacingAndGlyphs">Blood with three Covid particles</text>
<text class="sa" x="52" y="174.5" font-size="49" textLength="394.5" lengthAdjust="spacingAndGlyphs">Gold nanodisks</text>
<text class="sa" x="1986" y="298.7" font-size="52" textLength="249.5" lengthAdjust="spacingAndGlyphs">Graphene</text>
<text class="sa" x="183" y="525.4" font-size="56" textLength="115.5" lengthAdjust="spacingAndGlyphs">SiO2</text>
</g>
<text class="cap" y="711.3" font-size="86"><tspan x="1110.1">(</tspan><tspan x="1137" font-weight="bold" font-size="84">a</tspan><tspan x="1177.1">)</tspan></text>
<g id="chart">
<g clip-path="url(#plot)">
<path d="M154.5 935.8 L156.0 941.3 L157.6 946.2 L159.1 950.4 L160.6 954.3 L162.2 957.5 L163.7 959.8 L165.2 962.0 L166.8 963.9 L168.3 965.5 L169.8 966.5 L171.3 966.7 L172.9 966.1 L174.4 964.8 L175.9 963.0 L177.5 961.1 L179.0 959.1 L180.5 956.4 L182.1 953.4 L183.6 950.4 L185.1 947.9 L186.7 945.7 L188.2 943.4 L189.7 941.5 L191.3 940.3 L192.8 940.1 L194.3 941.5 L195.9 944.1 L197.4 947.4 L198.9 951.9 L200.4 959.5 L202.0 970.4 L203.5 991.0 L205.0 1023.4 L206.6 1075.9 L208.1 1123.3 L209.6 1160.8 L211.1 1119.1 L212.6 1090.1 L214.1 1067.9 L215.7 1051.0 L217.2 1038.5 L218.7 1028.2 L220.2 1019.8 L221.7 1013.4 L223.2 1008.3 L224.7 1004.0 L226.2 1000.7 L227.7 998.8 L229.2 997.4 L230.7 996.2 L232.2 995.4 L233.7 994.9 L235.2 995.1 L236.7 996.2 L238.2 998.2 L239.7 1000.5 L241.2 1003.0 L242.7 1005.6 L244.2 1008.9 L245.7 1012.5 L247.2 1016.1 L248.7 1019.4 L250.2 1022.8 L251.8 1026.4 L253.3 1029.8 L254.8 1032.8 L256.3 1035.0 L257.8 1036.4 L259.3 1037.7 L260.8 1038.6 L262.3 1039.0 L263.8 1038.6 L265.3 1037.4 L266.8 1036.2 L268.3 1035.7 L269.8 1036.9 L271.3 1039.9 L272.8 1043.9 L274.3 1048.8 L275.8 1056.6 L277.3 1068.3 L278.8 1088.2 L280.3 1125.9 L281.8 1173.7 L283.3 1235.4 L284.9 1182.8 L286.4 1133.1 L287.9 1081.7 L289.4 1044.3 L290.9 1023.1 L292.5 1008.4 L294.0 1001.9 L295.5 998.1 L297.0 995.5 L298.5 994.1 L300.0 994.2 L301.6 995.2 L303.1 996.9 L304.6 999.2 L306.1 1001.9 L307.6 1006.5 L309.2 1014.1 L310.7 1024.3 L312.2 1037.2 L313.7 1058.5 L315.2 1087.5 L316.8 1125.1 L318.3 1175.2 L319.8 1206.3 L321.3 1225.5 L322.9 1191.0 L324.4 1159.9 L325.9 1130.8 L327.5 1104.4 L329.0 1085.3 L330.5 1070.6 L332.1 1058.5 L333.6 1049.6 L335.1 1044.0 L336.7 1039.5 L338.2 1035.9 L339.7 1033.2 L341.3 1031.5 L342.8 1030.2 L344.3 1029.2 L345.9 1028.3 L347.4 1027.6 L348.9 1027.3 L350.5 1027.3 L352.0 1028.1 L353.6 1029.4 L355.1 1031.3 L356.6 1033.4 L358.2 1035.7 L359.7 1038.7 L361.2 1043.0 L362.8 1047.9 L364.3 1052.8 L365.8 1057.1 L367.4 1061.7 L368.9 1066.2 L370.4 1070.2 L372.0 1073.3 L373.5 1075.2 L375.0 1076.5 L376.6 1074.3 L378.1 1071.7 L379.6 1068.8 L381.2 1065.5 L382.7 1061.5 L384.2 1056.8 L385.7 1051.8 L387.3 1046.8 L388.8 1042.2 L390.3 1038.0 L391.8 1033.8 L393.4 1029.6 L394.9 1025.6 L396.4 1021.7 L397.9 1018.1 L399.5 1014.9 L401.0 1012.0 L402.5 1009.2 L404.0 1006.4 L405.6 1003.7 L407.1 1001.4 L408.6 999.3 L410.1 997.8 L411.7 996.8 L413.2 996.2 L414.7 995.6 L416.3 995.2 L417.8 994.9 L419.3 995.1 L420.8 997.2 L422.4 1001.0 L423.9 1006.1 L425.4 1014.4 L426.9 1029.3 L428.5 1046.6 L430.0 1065.2 L431.5 1086.3 L433.0 1107.9 L434.6 1132.0 L436.1 1153.6 L437.6 1166.5 L439.1 1176.1 L440.7 1193.4 L442.2 1237.4 L443.7 1295.5 L445.3 1410.6 L446.8 1646.4 L448.3 1429.0 L449.8 1272.1 L451.3 1178.8 L452.8 1128.6 L454.3 1103.8 L455.8 1086.7 L457.3 1070.2 L458.8 1053.2 L460.3 1037.4 L461.8 1024.0 L463.3 1013.5 L464.8 1004.7 L466.3 997.0 L467.8 990.1 L469.3 983.5 L470.8 977.1 L472.3 970.7 L473.8 964.3 L475.3 958.2 L476.8 952.2 L478.3 946.7 L479.8 941.5 L481.3 936.8 L482.8 932.7 L484.3 928.7 L485.8 925.0 L487.3 921.4 L488.8 918.0 L490.4 914.9 L491.9 912.0 L493.4 909.3 L494.9 906.9 L496.4 904.7 L497.9 902.7 L499.4 900.9 L500.9 899.1 L502.4 897.4 L503.9 895.9 L505.4 894.5 L506.9 893.2 L508.4 892.1 L509.9 891.1 L511.4 890.2 L512.9 889.3 L514.4 888.4 L515.9 887.6 L517.4 886.9 L518.9 886.4 L520.4 886.1 L521.9 886.0 L523.4 886.1 L524.9 886.4 L526.4 886.8 L527.9 887.2 L529.4 887.8 L530.9 888.5 L532.4 889.2 L533.9 889.9 L535.4 890.7 L536.9 891.5 L538.4 892.6 L539.9 893.8 L541.4 895.3 L542.9 896.8 L544.4 898.6 L545.9 900.4 L547.4 902.3 L549.0 904.2 L550.5 906.3 L552.0 908.3 L553.5 910.4 L555.0 912.7 L556.5 915.1 L558.0 917.7 L559.5 920.5 L561.0 923.3 L562.5 926.2 L564.0 929.2 L565.5 932.2 L567.0 935.2 L568.5 938.2 L570.0 941.4 L571.5 944.6 L573.0 947.9 L574.5 951.3 L576.0 954.7 L577.5 958.1 L579.0 961.5 L580.5 965.0 L582.0 968.5 L583.5 972.0 L585.0 975.5 L586.5 979.1 L588.0 982.7 L589.5 986.3 L591.0 990.0 L592.5 993.6 L594.0 997.4 L595.5 1001.1 L597.0 1004.9 L598.5 1008.7 L600.0 1012.6 L601.5 1016.5 L603.0 1020.4 L604.5 1024.4 L606.0 1028.3 L607.6 1032.3 L609.1 1036.4 L610.6 1040.4 L612.1 1044.5 L613.6 1048.6 L615.1 1052.8 L616.6 1056.9 L618.1 1061.2 L619.6 1065.4 L621.1 1069.8 L622.6 1074.2 L624.1 1078.7 L625.6 1083.3 L627.1 1087.9 L628.6 1092.6 L630.1 1097.4 L631.6 1102.2 L633.1 1107.1 L634.6 1112.1 L636.1 1117.2 L637.6 1122.5 L639.1 1127.8 L640.6 1133.4 L642.1 1139.0 L643.6 1144.7 L645.1 1150.6 L646.6 1156.4 L648.1 1162.3 L649.6 1168.2 L651.1 1174.1 L652.6 1180.0 L654.1 1186.1 L655.6 1192.3 L657.1 1198.5 L658.6 1204.7 L660.1 1210.8 L661.6 1216.9 L663.1 1222.7 L664.6 1228.3 L666.2 1233.8 L667.7 1239.4 L669.2 1244.8 L670.7 1249.9 L672.2 1254.5 L673.7 1258.3 L675.2 1261.6 L676.7 1264.6 L678.2 1267.1 L679.7 1269.1 L681.2 1267.8 L682.7 1264.4 L684.2 1259.7 L685.7 1253.3 L687.2 1242.3 L688.7 1229.2 L690.3 1216.5 L691.8 1205.0 L693.3 1193.5 L694.8 1182.1 L696.3 1171.2 L697.8 1160.5 L699.3 1150.0 L700.8 1139.7 L702.4 1129.8 L703.9 1120.5 L705.4 1111.8 L706.9 1103.3 L708.4 1095.1 L709.9 1087.3 L711.4 1079.7 L712.9 1072.6 L714.5 1066.0 L716.0 1059.9 L717.5 1054.1 L719.0 1048.7 L720.5 1043.5 L722.0 1038.6 L723.5 1034.0 L725.0 1029.6 L726.6 1025.4 L728.1 1021.5 L729.6 1017.7 L731.1 1014.1 L732.6 1010.6 L734.1 1007.3 L735.6 1004.2 L737.1 1001.1 L738.6 998.2 L740.2 995.3 L741.7 992.4 L743.2 989.6 L744.7 986.9 L746.2 984.4 L747.7 982.0 L749.2 979.8 L750.7 977.8 L752.3 976.0 L753.8 974.3 L755.3 972.7 L756.8 971.2 L758.3 969.8 L759.8 968.6 L761.3 967.5 L762.8 966.5 L764.4 965.6 L765.9 964.8 L767.4 963.9 L768.9 963.3 L770.4 962.8 L771.9 962.5 L773.4 962.6 L774.9 963.0 L776.5 963.7 L778.0 964.6 L779.5 965.7 L781.0 967.0 L782.5 968.5 L784.0 970.8 L785.5 974.3 L787.0 978.6 L788.6 983.5 L790.1 988.7 L791.6 994.1 L793.1 1000.5 L794.6 1007.8 L796.1 1015.7 L797.6 1024.2 L799.1 1033.7 L800.7 1044.5 L802.2 1055.6 L803.7 1066.5 L805.2 1076.9 L806.7 1087.4 L808.2 1098.1 L809.7 1109.1 L811.2 1120.3 L812.7 1131.8 L814.3 1143.2 L815.8 1154.3 L817.3 1165.2 L818.8 1176.4 L820.3 1188.8 L821.8 1202.9 L823.3 1218.3 L824.8 1234.1 L826.4 1249.4 L827.9 1264.1 L829.4 1278.9 L830.9 1294.4 L832.4 1310.6 L833.9 1327.4 L835.4 1347.5 L836.9 1374.8 L838.5 1409.6 L840.0 1447.0 L841.5 1488.0 L843.0 1529.7 L844.5 1568.4 L846.0 1605.6 L847.5 1639.8 L849.0 1673.7 L850.6 1717.3 L852.1 1672.5 L853.6 1629.7 L855.1 1580.8 L856.6 1541.5 L858.1 1512.5 L859.6 1486.0 L861.1 1459.6 L862.6 1434.5 L864.1 1411.5 L865.6 1391.1 L867.1 1371.8 L868.6 1350.8 L870.1 1326.5 L871.6 1305.5 L873.1 1293.8 L874.6 1285.6 L876.1 1279.1 L877.7 1272.8 L879.2 1266.0 L880.7 1259.4 L882.2 1253.5 L883.7 1248.9 L885.2 1245.3 L886.7 1242.2 L888.2 1239.4 L889.7 1236.8 L891.2 1234.2 L892.7 1232.0 L894.2 1230.0 L895.7 1227.7 L897.2 1224.8 L898.7 1220.8 L900.2 1215.1 L901.7 1208.4 L903.2 1201.0 L904.7 1193.4 L906.3 1186.2 L907.8 1178.8 L909.3 1171.0 L910.8 1163.1 L912.3 1155.4 L913.8 1148.2 L915.3 1141.6 L916.8 1135.4 L918.3 1129.3 L919.8 1123.5 L921.3 1118.0 L922.8 1112.6 L924.3 1107.5 L925.8 1102.7 L927.3 1098.0 L928.8 1093.4 L930.3 1089.0 L931.8 1084.8 L933.4 1080.8 L934.9 1077.0 L936.4 1073.5 L937.9 1070.2 L939.4 1067.0 L940.9 1064.0 L942.4 1061.1 L943.9 1058.3 L945.4 1055.7 L946.9 1053.2 L948.4 1050.8 L949.9 1048.5 L951.4 1046.3 L952.9 1044.2 L954.4 1042.1 L955.9 1040.1 L957.4 1038.1 L958.9 1036.3 L960.4 1034.5 L962.0 1032.8 L963.5 1031.2 L965.0 1029.7 L966.5 1028.4 L968.0 1027.1 L969.5 1026.0 L971.0 1024.8 L972.5 1023.7 L974.0 1022.6 L975.5 1021.6 L977.0 1020.6 L978.5 1019.7 L980.0 1019.0 L981.5 1018.3 L983.0 1017.8 L984.5 1017.4 L986.0 1017.1 L987.5 1016.9 L989.1 1016.7 L990.6 1016.5 L992.1 1016.3 L993.6 1016.1 L995.1 1016.0 L996.6 1016.0 L998.1 1016.0 L999.6 1016.4 L1001.1 1017.1 L1002.6 1018.2 L1004.1 1019.5 L1005.6 1021.0 L1007.1 1022.6 L1008.6 1024.4 L1010.1 1026.7 L1011.6 1029.8 L1013.1 1033.8 L1014.6 1038.4 L1016.2 1043.5 L1017.7 1049.2 L1019.2 1056.7 L1020.7 1065.8 L1022.2 1075.8 L1023.7 1086.1 L1025.2 1096.4 L1026.7 1107.1 L1028.2 1118.5 L1029.7 1130.9 L1031.2 1145.0 L1032.7 1160.6 L1034.2 1176.3 L1035.7 1190.9 L1037.2 1205.5 L1038.7 1218.6 L1040.2 1227.5 L1041.7 1234.1 L1043.2 1238.2 L1044.8 1225.2 L1046.3 1210.1 L1047.8 1192.8 L1049.3 1171.9 L1050.8 1151.2 L1052.3 1133.8 L1053.8 1117.8 L1055.3 1103.1 L1056.8 1089.8 L1058.3 1077.9 L1059.8 1066.7 L1061.3 1056.4 L1062.8 1047.3 L1064.3 1039.3 L1065.8 1032.2 L1067.3 1025.7 L1068.8 1019.7 L1070.3 1014.2 L1071.8 1009.2 L1073.3 1004.5 L1074.8 999.9 L1076.3 995.6 L1077.9 991.6 L1079.4 987.9 L1080.9 984.7 L1082.4 981.9 L1083.9 979.4 L1085.4 977.0 L1086.9 974.7 L1088.4 972.6 L1089.9 970.9 L1091.4 969.4 L1092.9 968.4 L1094.4 967.8 L1095.9 967.2 L1097.4 966.7 L1098.9 966.2 L1100.4 965.8 L1101.9 965.6 L1103.4 965.4 L1104.9 965.3 L1106.4 965.6 L1107.9 966.2 L1109.4 967.2 L1110.9 968.4 L1112.5 969.8 L1114.0 971.4 L1115.5 973.2 L1117.0 975.2 L1118.5 978.3 L1120.0 982.1 L1121.5 986.6 L1123.0 991.5 L1124.5 996.6 L1126.0 1002.3 L1127.5 1008.9 L1129.0 1016.4 L1130.5 1024.6 L1132.0 1033.8 L1133.5 1044.7 L1135.0 1057.1 L1136.5 1070.4 L1138.0 1083.9 L1139.5 1098.3 L1141.0 1113.6 L1142.5 1129.8 L1144.0 1146.9 L1145.6 1164.9 L1147.1 1184.3 L1148.6 1205.4 L1150.1 1229.6 L1151.6 1255.7 L1153.1 1281.2 L1154.6 1306.4 L1156.1 1331.2 L1157.6 1354.9 L1159.1 1330.8 L1160.7 1303.8 L1162.2 1272.5 L1163.8 1243.8 L1165.3 1219.7 L1166.9 1198.8 L1168.4 1184.3 L1170.0 1173.3 L1171.5 1164.4 L1173.1 1158.2 L1174.6 1154.4 L1176.2 1151.2 L1177.7 1149.0 L1179.2 1148.2 L1180.8 1149.1 L1182.3 1151.4 L1183.9 1154.5 L1185.4 1158.0 L1187.0 1163.0 L1188.5 1169.0 L1190.1 1174.9 L1191.6 1179.9 L1193.2 1184.5 L1194.7 1189.0 L1196.2 1184.8 L1197.7 1179.4 L1199.2 1173.1 L1200.7 1166.0 L1202.2 1157.0 L1203.7 1146.7 L1205.2 1136.2 L1206.7 1126.6 L1208.2 1117.1 L1209.7 1107.7 L1211.2 1098.8 L1212.7 1090.5 L1214.2 1083.1 L1215.7 1075.9 L1217.2 1069.1 L1218.7 1062.6 L1220.2 1056.6 L1221.7 1050.9 L1223.2 1045.6 L1224.7 1040.7 L1226.2 1035.9 L1227.7 1031.4 L1229.2 1027.1 L1230.7 1023.0 L1232.2 1019.0 L1233.7 1015.2 L1235.2 1011.5 L1236.7 1008.0 L1238.2 1004.5 L1239.7 1001.0 L1241.2 997.7 L1242.7 994.4 L1244.2 991.2 L1245.7 988.2 L1247.2 985.2 L1248.7 982.3 L1250.2 979.6 L1251.7 977.1 L1253.2 974.6 L1254.7 972.3 L1256.2 970.1 L1257.7 968.0 L1259.2 965.9 L1260.7 964.0 L1262.2 962.1 L1263.7 960.2 L1265.2 958.5 L1266.7 956.8 L1268.2 955.3 L1269.7 953.8 L1271.2 952.4 L1272.7 951.2 L1274.2 950.0 L1275.7 948.9 L1277.2 947.8 L1278.7 946.8 L1280.2 945.8 L1281.7 944.8 L1283.2 943.8 L1284.7 942.8 L1286.2 941.8 L1287.7 940.7 L1289.2 939.6 L1290.7 938.6 L1292.2 937.5 L1293.7 936.4 L1295.3 935.3 L1296.8 934.2 L1298.3 933.1 L1299.8 932.0 L1301.3 930.9 L1302.8 929.8 L1304.3 928.6 L1305.8 927.4 L1307.3 926.2 L1308.8 924.8 L1310.3 923.5 L1311.8 922.2 L1313.3 920.8 L1314.8 919.5 L1316.3 918.2 L1317.8 917.0 L1319.3 915.8 L1320.8 914.8 L1322.3 913.8 L1323.8 912.9 L1325.3 912.1 L1326.8 911.3 L1328.3 910.6 L1329.8 909.8 L1331.3 909.1 L1332.8 908.4 L1334.3 907.7 L1335.8 907.0 L1337.3 906.3 L1338.8 905.6 L1340.3 905.0 L1341.8 904.3 L1343.3 903.7 L1344.8 903.1 L1346.3 902.4 L1347.8 901.8 L1349.3 901.2 L1350.8 900.6 L1352.3 899.9 L1353.8 899.3 L1355.3 898.8 L1356.8 898.2 L1358.3 897.6 L1359.8 897.1 L1361.3 896.6 L1362.8 896.1 L1364.3 895.7 L1365.8 895.2 L1367.3 894.7 L1368.8 894.3 L1370.3 893.9 L1371.8 893.4 L1373.3 893.0 L1374.8 892.6 L1376.3 892.2 L1377.8 891.9 L1379.3 891.5 L1380.8 891.2 L1382.3 890.9 L1383.8 890.7 L1385.3 890.5 L1386.8 890.2 L1388.3 890.0 L1389.8 889.8 L1391.3 889.6 L1392.8 889.4 L1394.3 889.2 L1395.8 889.0 L1397.3 888.8 L1398.8 888.7 L1400.3 888.5 L1401.8 888.4 L1403.3 888.3 L1404.8 888.2 L1406.3 888.1 L1407.8 888.1 L1409.3 888.0 L1410.8 888.0 L1412.3 888.0 L1413.8 888.1 L1415.3 888.1 L1416.8 888.1 L1418.3 888.1 L1419.8 888.1 L1421.3 888.1 L1422.8 888.1 L1424.3 888.1 L1425.8 888.1 L1427.3 888.1 L1428.8 888.1 L1430.3 888.2 L1431.8 888.2 L1433.3 888.2 L1434.8 888.2 L1436.3 888.2 L1437.8 888.2 L1439.3 888.3 L1440.8 888.3 L1442.3 888.3 L1443.8 888.3 L1445.3 888.4 L1446.8 888.4 L1448.3 888.5 L1449.8 888.6 L1451.3 888.6 L1452.8 888.7 L1454.3 888.8 L1455.8 888.9 L1457.3 889.0 L1458.8 889.2 L1460.3 889.3 L1461.8 889.4 L1463.3 889.5 L1464.8 889.7 L1466.3 889.8 L1467.8 890.0 L1469.3 890.1 L1470.8 890.2 L1472.3 890.4 L1473.8 890.5 L1475.3 890.7 L1476.8 890.8 L1478.3 890.9 L1479.8 891.1 L1481.3 891.2 L1482.8 891.3 L1484.3 891.5 L1485.8 891.6 L1487.3 891.8 L1488.8 891.9 L1490.3 892.1 L1491.8 892.3 L1493.3 892.4 L1494.8 892.6 L1496.3 892.8 L1497.8 892.9 L1499.3 893.1 L1500.8 893.3 L1502.3 893.5 L1503.8 893.6 L1505.3 893.8 L1506.8 894.0 L1508.3 894.2 L1509.8 894.4 L1511.3 894.6 L1512.8 894.8 L1514.3 895.0 L1515.8 895.1 L1517.3 895.3 L1518.8 895.5 L1520.3 895.8 L1521.8 896.0 L1523.3 896.2 L1524.8 896.4 L1526.3 896.6 L1527.8 896.8 L1529.3 897.1 L1530.8 897.3 L1532.3 897.5 L1533.8 897.8 L1535.3 898.0 L1536.8 898.3 L1538.3 898.5 L1539.8 898.7 L1541.3 899.0 L1542.8 899.2 L1544.3 899.5 L1545.8 899.7 L1547.3 899.9 L1548.8 900.2 L1550.3 900.4 L1551.8 900.6 L1553.3 900.9 L1554.8 901.1 L1556.3 901.3 L1557.8 901.6 L1559.3 901.8 L1560.8 902.1 L1562.3 902.3 L1563.8 902.6 L1565.3 902.8 L1566.8 903.1 L1568.3 903.3 L1569.8 903.6 L1571.3 903.8 L1572.8 904.1 L1574.3 904.3 L1575.8 904.5 L1577.3 904.8 L1578.8 905.0 L1580.3 905.2 L1581.8 905.5 L1583.3 905.7 L1584.8 905.9 L1586.3 906.1 L1587.8 906.3 L1589.3 906.5 L1590.8 906.7 L1592.3 906.8 L1593.8 907.0 L1595.3 907.1 L1596.8 907.3 L1598.3 907.4 L1599.8 907.5 L1601.3 907.6 L1602.8 907.8 L1604.3 907.9 L1605.8 908.0 L1607.3 908.1 L1608.8 908.3 L1610.3 908.4 L1611.8 908.6 L1613.3 908.8 L1614.8 909.0 L1616.4 909.2 L1617.9 909.4 L1619.4 909.6 L1620.9 909.9 L1622.4 910.1 L1623.9 910.4 L1625.4 910.6 L1626.9 910.9 L1628.4 911.1 L1629.9 911.4 L1631.4 911.7 L1632.9 912.0 L1634.4 912.2 L1635.9 912.5 L1637.4 912.8 L1638.9 913.0 L1640.4 913.3 L1641.9 913.6 L1643.4 913.9 L1644.9 914.2 L1646.4 914.5 L1647.9 914.8 L1649.4 915.1 L1650.9 915.4 L1652.4 915.7 L1653.9 916.0 L1655.4 916.3 L1656.9 916.6 L1658.4 917.0 L1659.9 917.3 L1661.4 917.6 L1662.9 918.0 L1664.4 918.4 L1665.9 918.7 L1667.4 919.1 L1668.9 919.5 L1670.4 919.9 L1671.9 920.3 L1673.4 920.7 L1674.9 921.1 L1676.4 921.6 L1677.9 922.0 L1679.4 922.4 L1680.9 922.9 L1682.4 923.3 L1683.9 923.8 L1685.4 924.3 L1686.9 924.8 L1688.4 925.2 L1689.9 925.7 L1691.4 926.2 L1692.9 926.7 L1694.4 927.3 L1695.9 927.8 L1697.4 928.4 L1698.9 928.9 L1700.4 929.5 L1701.9 930.1 L1703.4 930.7 L1704.9 931.4 L1706.4 932.0 L1707.9 932.7 L1709.4 933.4 L1710.9 934.1 L1712.4 934.8 L1713.9 935.6 L1715.4 936.4 L1716.9 937.2 L1718.4 938.1 L1719.9 939.0 L1721.4 939.9 L1722.9 940.9 L1724.4 941.9 L1725.9 942.9 L1727.4 943.9 L1728.9 945.0 L1730.4 946.1 L1731.9 947.3 L1733.4 948.4 L1734.9 949.6 L1736.4 950.9 L1737.9 952.2 L1739.4 953.5 L1740.9 954.8 L1742.4 956.1 L1743.9 957.6 L1745.4 959.0 L1746.9 960.5 L1748.4 962.0 L1749.9 963.5 L1751.4 965.1 L1752.9 966.7 L1754.4 968.2 L1755.9 969.8 L1757.4 971.4 L1758.9 973.1 L1760.4 974.8 L1761.9 976.4 L1763.4 978.1 L1764.9 979.8 L1766.4 981.5 L1767.9 983.1 L1769.4 984.7 L1770.9 986.3 L1772.4 988.0 L1773.9 989.6 L1775.4 991.2 L1776.9 992.9 L1778.4 994.6 L1779.9 996.4 L1781.4 998.2 L1782.9 1000.1 L1784.4 1002.1 L1785.9 1004.1 L1787.4 1006.1 L1788.9 1008.1 L1790.4 1010.0 L1791.9 1011.8 L1793.4 1013.5 L1794.9 1015.2 L1796.4 1016.9 L1797.9 1018.5 L1799.4 1020.1 L1800.9 1021.7 L1802.4 1023.2 L1803.9 1024.7 L1805.4 1026.2 L1806.9 1027.6 L1808.4 1029.0 L1809.9 1030.3 L1811.4 1031.6 L1812.9 1032.9 L1814.4 1034.2 L1815.9 1035.4 L1817.4 1036.6 L1818.9 1037.7 L1820.4 1038.8 L1821.9 1039.9 L1823.4 1041.0 L1824.9 1042.0 L1826.4 1043.0 L1827.9 1043.8 L1829.4 1044.3 L1830.9 1044.7 L1832.4 1045.1 L1833.9 1045.4 L1835.4 1045.6 L1836.9 1045.6 L1838.4 1045.4 L1839.9 1045.2 L1841.4 1044.8 L1842.9 1044.4 L1844.4 1044.0 L1845.9 1043.5 L1847.4 1043.1 L1848.9 1042.5 L1850.4 1041.9 L1851.9 1041.2 L1853.4 1040.4 L1854.9 1039.7 L1856.4 1039.0 L1857.9 1038.3 L1859.4 1037.6 L1860.9 1036.8 L1862.4 1036.1 L1863.9 1035.3 L1865.4 1034.6 L1866.9 1033.8 L1868.4 1033.0 L1869.9 1032.2 L1871.4 1031.4 L1872.9 1030.5 L1874.4 1029.7 L1875.9 1028.8 L1877.4 1028.0 L1878.9 1027.1 L1880.4 1026.3 L1881.9 1025.4 L1883.4 1024.6 L1884.9 1023.7 L1886.4 1022.9 L1887.9 1022.0 L1889.4 1021.2 L1890.9 1020.3 L1892.4 1019.5 L1893.9 1018.7 L1895.4 1017.8 L1896.9 1017.0 L1898.4 1016.1 L1899.9 1015.3 L1901.4 1014.5 L1902.9 1013.7 L1904.4 1012.9 L1905.9 1012.1 L1907.4 1011.4 L1908.9 1010.7 L1910.4 1010.0 L1911.9 1009.3 L1913.4 1008.6 L1914.9 1008.0 L1916.4 1007.4 L1917.9 1006.7 L1919.4 1006.1 L1920.9 1005.6 L1922.4 1005.1 L1923.9 1004.7 L1925.4 1004.3 L1926.9 1003.8 L1928.4 1003.3 L1929.9 1002.6 L1931.4 1001.8 L1932.9 1000.4 L1934.4 997.9 L1935.9 995.5 L1937.5 994.0 L1939.0 993.0 L1940.5 992.2 L1942.0 991.4 L1943.5 990.7 L1945.0 990.1 L1946.5 989.5 L1948.0 989.0 L1949.5 988.5 L1951.0 988.0 L1952.5 987.4 L1954.0 986.8 L1955.5 986.1 L1957.0 985.5 L1958.5 984.9 L1960.0 984.3 L1961.5 983.6 L1963.0 983.0 L1964.5 982.4 L1966.0 981.8 L1967.5 981.3 L1969.0 980.7 L1970.5 980.2 L1972.0 979.6 L1973.5 979.1 L1975.0 978.6 L1976.5 978.1 L1978.0 977.6 L1979.5 977.2 L1981.0 976.7 L1982.5 976.2 L1984.0 975.8 L1985.5 975.3 L1987.0 974.9 L1988.5 974.4 L1990.0 974.0 L1991.5 973.5 L1993.0 973.1 L1994.5 972.7 L1996.0 972.2 L1997.5 971.8 L1999.0 971.4 L2000.5 971.0 L2002.0 970.6 L2003.5 970.2 L2005.0 969.8 L2006.5 969.5 L2008.0 969.1 L2009.5 968.7 L2011.0 968.4 L2012.5 968.0 L2014.0 967.7 L2015.5 967.3 L2017.0 967.0 L2018.5 966.7 L2020.0 966.4 L2021.5 966.0 L2023.0 965.7 L2024.5 965.4 L2026.0 965.1 L2027.5 964.8 L2029.0 964.5 L2030.5 964.3 L2032.0 964.0 L2033.5 963.7 L2035.0 963.4 L2036.5 963.2 L2038.0 962.9 L2039.5 962.7 L2041.0 962.4 L2042.5 962.2 L2044.0 962.0 L2045.5 961.7 L2047.0 961.5 L2048.5 961.3 L2050.0 961.1 L2051.5 960.9 L2053.0 960.6 L2054.5 960.4 L2056.0 960.2 L2057.5 960.0 L2059.0 959.7 L2060.5 959.5 L2062.0 959.3 L2063.5 959.1 L2065.0 958.8 L2066.5 958.6 L2068.0 958.4 L2069.5 958.2 L2071.0 957.9 L2072.5 957.7 L2074.0 957.5 L2075.5 957.3 L2077.0 957.1 L2078.5 956.9 L2080.0 956.7 L2081.5 956.5 L2083.0 956.3 L2084.5 956.2 L2086.0 956.0 L2087.5 955.8 L2089.0 955.6 L2090.5 955.4 L2092.0 955.2 L2093.5 955.0 L2095.0 954.9 L2096.5 954.7 L2098.0 954.5 L2099.5 954.3 L2101.0 954.2 L2102.5 954.0 L2104.0 953.8 L2105.5 953.6 L2107.0 953.4 L2108.5 953.2 L2110.0 953.0 L2111.5 952.8 L2113.0 952.7 L2114.5 952.5 L2116.0 952.3 L2117.5 952.1 L2119.0 951.9 L2120.5 951.7 L2122.0 951.5 L2123.5 951.3 L2125.0 951.1 L2126.5 950.9 L2128.0 950.7 L2129.5 950.5 L2131.0 950.3 L2132.5 950.1 L2134.0 949.9 L2135.5 949.7 L2137.0 949.5 L2138.5 949.3 L2140.0 949.1 L2141.5 948.9 L2143.0 948.8 L2144.5 948.6 L2146.0 948.4 L2147.5 948.2 L2149.0 948.0 L2150.5 947.9 L2152.0 947.7 L2153.5 947.5 L2155.0 947.3 L2156.5 947.2 L2158.0 947.0 L2159.5 946.8 L2161.0 946.6 L2162.5 946.4 L2164.0 946.3 L2165.5 946.1 L2167.0 945.9 L2168.5 945.7 L2170.0 945.5 L2171.5 945.4 L2173.0 945.2 L2174.5 945.0 L2176.0 944.8 L2177.5 944.6 L2179.0 944.4 L2180.5 944.3 L2182.0 944.1 L2183.5 943.9 L2185.0 943.7 L2186.5 943.5 L2188.0 943.4 L2189.5 943.2 L2191.0 943.0 L2192.5 942.8 L2194.0 942.7 L2195.5 942.5 L2197.0 942.3 L2198.5 942.2 L2200.0 942.0 L2201.5 941.8 L2203.0 941.7 L2204.5 941.5 L2206.0 941.4 L2207.5 941.2 L2209.0 941.0 L2210.5 940.9 L2212.0 940.7 L2213.5 940.6 L2215.0 940.4 L2216.5 940.3 L2218.0 940.1 L2219.5 940.0 L2221.0 939.8 L2222.5 939.7 L2224.0 939.6 L2225.5 939.4 L2227.0 939.3 L2228.5 939.2 L2230.0 939.0 L2231.5 938.9 L2233.0 938.8 L2234.5 938.7 L2236.0 938.6 L2237.5 938.5 L2239.0 938.3 L2240.5 938.2 L2242.0 938.1 L2243.5 938.0 L2245.0 937.9 L2246.5 937.8 L2248.0 937.7 L2249.5 937.6 L2251.0 937.5" fill="none" stroke="#ff0000" stroke-width="9.9" stroke-dasharray="1.85 0.95" stroke-linejoin="bevel"/>
<path d="M154.5 903.4 L156.0 904.2 L157.6 905.2 L159.1 906.2 L160.7 907.3 L162.2 908.4 L163.8 909.8 L165.3 911.2 L166.9 912.7 L168.4 914.2 L170.0 915.6 L171.5 917.1 L173.1 919.0 L174.6 921.7 L176.2 926.0 L177.7 932.3 L179.3 942.8 L180.8 960.7 L182.4 988.2 L183.9 1021.7 L185.4 1054.8 L187.0 1086.5 L188.5 1114.9 L190.1 1136.0 L191.6 1148.7 L193.1 1139.4 L194.7 1118.1 L196.2 1080.7 L197.7 1049.0 L199.2 1019.5 L200.7 995.8 L202.2 976.1 L203.7 959.8 L205.2 946.6 L206.7 935.8 L208.2 927.2 L209.7 919.8 L211.2 913.8 L212.8 909.9 L214.3 907.1 L215.8 904.8 L217.3 903.1 L218.8 902.1 L220.3 901.5 L221.8 901.1 L223.3 900.7 L224.8 900.4 L226.3 900.2 L227.8 900.1 L229.3 900.2 L230.9 900.9 L232.4 901.9 L233.9 903.1 L235.4 904.5 L236.9 906.0 L238.4 908.2 L239.9 910.7 L241.4 913.5 L242.9 916.3 L244.4 919.4 L245.9 922.8 L247.4 925.9 L249.0 927.9 L250.5 929.7 L252.0 931.0 L253.5 931.6 L255.0 930.8 L256.5 928.8 L258.0 926.6 L259.5 925.1 L261.0 923.9 L262.5 922.8 L264.0 922.0 L265.5 921.7 L267.1 921.9 L268.6 922.2 L270.1 922.7 L271.6 923.3 L273.1 924.2 L274.6 925.7 L276.1 928.0 L277.6 930.8 L279.1 934.2 L280.6 939.0 L282.1 945.3 L283.6 954.3 L285.2 966.9 L286.7 982.5 L288.2 1003.7 L289.7 1034.2 L291.2 1079.1 L292.7 1153.6 L294.2 1301.0 L295.7 1535.8 L297.2 1344.8 L298.7 1185.1 L300.2 1076.2 L301.7 1016.4 L303.2 988.4 L304.7 982.6 L306.2 979.1 L307.7 976.8 L309.2 974.8 L310.7 973.2 L312.2 972.0 L313.7 970.9 L315.2 969.3 L316.7 966.5 L318.2 961.1 L319.7 954.1 L321.2 947.2 L322.7 941.0 L324.2 934.6 L325.7 928.5 L327.2 923.7 L328.7 919.9 L330.2 916.4 L331.7 913.3 L333.2 910.7 L334.7 908.7 L336.2 907.2 L337.7 905.9 L339.2 904.6 L340.7 903.5 L342.2 902.6 L343.7 901.9 L345.2 901.4 L346.7 901.2 L348.2 901.2 L349.7 901.4 L351.2 901.6 L352.7 901.9 L354.2 902.2 L355.7 902.6 L357.2 903.1 L358.7 903.7 L360.2 904.9 L361.7 906.6 L363.2 908.6 L364.7 910.8 L366.2 912.8 L367.7 914.7 L369.2 916.6 L370.7 918.7 L372.2 920.7 L373.7 922.7 L375.2 924.5 L376.7 926.2 L378.2 927.7 L379.7 929.1 L381.2 930.4 L382.7 931.7 L384.2 932.9 L385.7 934.0 L387.2 934.9 L388.7 935.6 L390.2 936.2 L391.7 936.7 L393.2 937.2 L394.7 937.6 L396.2 938.0 L397.7 938.3 L399.2 938.6 L400.7 939.0 L402.2 939.3 L403.7 939.6 L405.2 939.8 L406.7 940.0 L408.2 940.2 L409.7 940.4 L411.2 940.6 L412.7 940.9 L414.2 941.4 L415.7 942.2 L417.2 943.8 L418.7 946.1 L420.2 948.8 L421.7 951.8 L423.2 955.8 L424.7 961.0 L426.2 967.1 L427.7 974.0 L429.2 982.6 L430.7 992.7 L432.2 1003.7 L433.7 1016.4 L435.2 1031.5 L436.7 1045.3 L438.2 1056.1 L439.7 1065.5 L441.2 1072.5 L442.7 1077.4 L444.2 1080.7 L445.7 1054.2 L447.2 1029.4 L448.8 1004.4 L450.3 986.7 L451.8 975.3 L453.3 966.5 L454.8 958.7 L456.3 951.7 L457.8 945.3 L459.4 939.7 L460.9 935.0 L462.4 931.0 L463.9 927.4 L465.4 924.1 L466.9 921.1 L468.4 918.4 L470.0 916.1 L471.5 914.0 L473.0 912.1 L474.5 910.3 L476.0 908.6 L477.5 907.1 L479.1 905.6 L480.6 904.3 L482.1 903.1 L483.6 902.1 L485.1 901.1 L486.6 900.3 L488.1 899.4 L489.7 898.6 L491.2 897.8 L492.7 897.0 L494.2 896.4 L495.7 895.8 L497.2 895.4 L498.7 895.1 L500.3 895.0 L501.8 895.1 L503.3 895.3 L504.8 895.7 L506.3 896.2 L507.8 896.9 L509.3 897.7 L510.9 898.6 L512.4 899.8 L513.9 902.1 L515.4 905.5 L516.9 910.1 L518.4 915.6 L519.9 925.7 L521.5 939.5 L523.0 953.6 L524.5 969.9 L526.0 985.4 L527.5 997.0 L529.0 1007.1 L530.5 1013.8 L532.1 1016.7 L533.6 1018.6 L535.1 1019.3 L536.6 1016.7 L538.1 1013.4 L539.6 1009.5 L541.1 1004.0 L542.6 997.6 L544.1 992.1 L545.6 988.2 L547.2 984.7 L548.7 981.7 L550.2 979.2 L551.7 977.4 L553.2 976.2 L554.7 975.1 L556.2 974.2 L557.7 973.5 L559.2 973.2 L560.7 973.4 L562.2 973.9 L563.8 974.8 L565.3 975.9 L566.8 977.1 L568.3 978.2 L569.8 979.4 L571.3 980.7 L572.8 982.2 L574.3 983.8 L575.8 985.4 L577.3 987.1 L578.8 988.7 L580.4 990.3 L581.9 991.9 L583.4 993.6 L584.9 995.2 L586.4 996.9 L587.9 998.5 L589.4 1000.2 L590.9 1001.9 L592.4 1003.6 L593.9 1005.3 L595.4 1006.9 L597.0 1008.7 L598.5 1010.6 L600.0 1012.4 L601.5 1014.3 L603.0 1016.1 L604.5 1017.8 L606.0 1019.3 L607.5 1020.7 L609.0 1021.8 L610.5 1022.8 L612.1 1023.9 L613.6 1024.9 L615.1 1025.7 L616.6 1026.5 L618.1 1027.0 L619.6 1027.2 L621.1 1027.2 L622.6 1027.1 L624.1 1027.0 L625.6 1026.8 L627.1 1026.6 L628.7 1026.3 L630.2 1026.0 L631.7 1025.7 L633.2 1025.4 L634.7 1024.9 L636.2 1024.3 L637.7 1023.7 L639.2 1023.0 L640.7 1022.3 L642.2 1021.6 L643.7 1020.8 L645.3 1020.1 L646.8 1019.4 L648.3 1018.7 L649.8 1018.1 L651.3 1017.5 L652.8 1016.8 L654.3 1016.2 L655.8 1015.5 L657.3 1014.9 L658.8 1014.2 L660.3 1013.6 L661.9 1013.0 L663.4 1012.4 L664.9 1011.8 L666.4 1011.3 L667.9 1010.7 L669.4 1010.1 L670.9 1009.5 L672.4 1009.0 L673.9 1008.4 L675.4 1007.9 L676.9 1007.4 L678.5 1007.0 L680.0 1006.6 L681.5 1006.2 L683.0 1005.9 L684.5 1005.6 L686.0 1005.3 L687.5 1005.1 L689.0 1004.9 L690.5 1004.8 L692.0 1004.7 L693.5 1005.0 L695.1 1005.6 L696.6 1006.4 L698.1 1007.4 L699.6 1008.5 L701.1 1009.7 L702.6 1011.4 L704.1 1013.5 L705.6 1015.9 L707.1 1018.6 L708.6 1021.8 L710.1 1025.6 L711.7 1029.6 L713.2 1033.7 L714.7 1038.1 L716.2 1042.7 L717.7 1047.6 L719.2 1052.7 L720.7 1057.8 L722.2 1062.9 L723.7 1068.0 L725.2 1073.4 L726.8 1079.3 L728.3 1085.5 L729.8 1091.7 L731.3 1097.4 L732.8 1102.8 L734.3 1108.0 L735.8 1113.0 L737.3 1117.9 L738.8 1122.7 L740.3 1127.2 L741.8 1131.6 L743.4 1136.0 L744.9 1140.5 L746.4 1145.2 L747.9 1150.1 L749.4 1155.1 L750.9 1160.3 L752.4 1165.6 L753.9 1171.0 L755.4 1176.5 L756.9 1182.2 L758.4 1188.0 L760.0 1194.0 L761.5 1200.3 L763.0 1206.2 L764.5 1211.1 L766.0 1215.3 L767.5 1210.9 L769.0 1206.2 L770.5 1201.3 L772.0 1196.0 L773.5 1190.6 L775.0 1185.0 L776.5 1179.2 L778.0 1173.1 L779.5 1167.0 L781.0 1160.9 L782.5 1154.8 L784.0 1148.6 L785.5 1142.5 L787.0 1136.5 L788.5 1130.8 L790.0 1125.3 L791.5 1119.9 L793.0 1114.7 L794.5 1109.9 L796.0 1105.6 L797.5 1101.6 L799.0 1097.9 L800.5 1094.4 L802.0 1091.2 L803.5 1088.1 L805.0 1085.1 L806.5 1082.2 L808.0 1079.7 L809.6 1077.5 L811.1 1075.6 L812.6 1073.8 L814.1 1072.2 L815.6 1071.0 L817.1 1070.2 L818.6 1069.6 L820.1 1069.1 L821.6 1068.7 L823.1 1068.4 L824.6 1068.1 L826.1 1067.9 L827.6 1067.7 L829.1 1067.7 L830.6 1068.1 L832.1 1068.9 L833.6 1069.9 L835.1 1071.1 L836.6 1072.3 L838.1 1073.4 L839.6 1074.7 L841.1 1076.2 L842.6 1077.5 L844.1 1078.5 L845.6 1079.0 L847.1 1079.4 L848.6 1079.7 L850.1 1080.0 L851.6 1080.1 L853.1 1080.1 L854.6 1079.8 L856.1 1079.2 L857.6 1078.4 L859.1 1077.5 L860.6 1076.6 L862.1 1075.8 L863.6 1074.8 L865.1 1073.6 L866.6 1072.4 L868.1 1071.2 L869.6 1070.0 L871.1 1068.8 L872.6 1067.7 L874.1 1066.6 L875.6 1065.4 L877.1 1064.3 L878.6 1063.2 L880.1 1062.1 L881.7 1061.3 L883.2 1060.5 L884.7 1060.0 L886.2 1059.4 L887.7 1058.9 L889.2 1058.5 L890.7 1058.2 L892.2 1058.2 L893.7 1058.6 L895.2 1059.4 L896.7 1060.6 L898.2 1061.8 L899.7 1063.0 L901.2 1064.7 L902.7 1066.4 L904.2 1067.8 L905.7 1068.6 L907.2 1069.3 L908.7 1069.8 L910.2 1070.0 L911.7 1069.1 L913.2 1067.5 L914.7 1065.5 L916.2 1063.1 L917.7 1059.7 L919.2 1055.4 L920.7 1050.6 L922.2 1045.9 L923.7 1041.6 L925.3 1037.3 L926.8 1032.9 L928.3 1028.6 L929.8 1024.4 L931.3 1020.2 L932.8 1016.4 L934.3 1012.7 L935.8 1009.3 L937.3 1006.0 L938.8 1002.8 L940.3 999.7 L941.8 996.7 L943.3 993.8 L944.8 991.0 L946.3 988.2 L947.8 985.6 L949.3 983.0 L950.9 980.5 L952.4 978.0 L953.9 975.6 L955.4 973.3 L956.9 971.0 L958.4 968.7 L959.9 966.6 L961.4 964.5 L962.9 962.5 L964.4 960.5 L965.9 958.6 L967.4 956.7 L968.9 954.9 L970.4 953.1 L971.9 951.3 L973.4 949.5 L975.0 947.8 L976.5 946.2 L978.0 944.6 L979.5 943.1 L981.0 941.7 L982.5 940.4 L984.0 939.2 L985.5 938.0 L987.0 936.9 L988.5 935.9 L990.0 934.8 L991.5 933.8 L993.0 932.8 L994.5 931.9 L996.0 931.0 L997.5 930.2 L999.0 929.4 L1000.6 928.8 L1002.1 928.1 L1003.6 927.6 L1005.1 927.2 L1006.6 926.7 L1008.1 926.3 L1009.6 925.9 L1011.1 925.5 L1012.6 925.2 L1014.1 924.9 L1015.6 924.7 L1017.1 924.6 L1018.6 924.5 L1020.1 924.6 L1021.6 924.9 L1023.1 925.2 L1024.7 925.8 L1026.2 926.4 L1027.7 927.1 L1029.2 928.0 L1030.7 928.9 L1032.2 929.9 L1033.7 931.4 L1035.2 933.9 L1036.7 937.0 L1038.2 940.1 L1039.7 942.9 L1041.2 945.7 L1042.7 948.8 L1044.2 952.5 L1045.7 957.3 L1047.2 964.7 L1048.8 975.1 L1050.3 987.5 L1051.8 1001.2 L1053.3 1018.8 L1054.8 1038.3 L1056.3 1057.1 L1057.8 1076.9 L1059.3 1094.0 L1060.8 1106.3 L1062.3 1117.1 L1063.8 1125.7 L1065.3 1131.3 L1066.8 1124.5 L1068.3 1116.3 L1069.8 1106.9 L1071.3 1095.4 L1072.8 1082.7 L1074.3 1070.3 L1075.8 1057.7 L1077.3 1045.2 L1078.9 1033.7 L1080.4 1023.6 L1081.9 1014.1 L1083.4 1005.3 L1084.9 997.5 L1086.4 990.8 L1087.9 985.0 L1089.4 979.6 L1090.9 974.9 L1092.4 971.3 L1093.9 969.0 L1095.4 967.2 L1096.9 965.6 L1098.4 964.1 L1099.9 962.9 L1101.4 962.0 L1102.9 961.4 L1104.4 961.1 L1105.9 961.2 L1107.4 961.7 L1108.9 962.4 L1110.4 963.4 L1111.9 964.7 L1113.4 966.1 L1114.9 967.7 L1116.5 969.8 L1118.0 973.4 L1119.5 978.1 L1121.0 983.4 L1122.5 988.9 L1124.0 994.2 L1125.5 1000.1 L1127.0 1006.4 L1128.5 1012.7 L1130.0 1018.7 L1131.5 1024.6 L1133.0 1030.8 L1134.5 1036.5 L1136.0 1041.5 L1137.5 1045.1 L1139.0 1048.1 L1140.5 1050.7 L1142.0 1052.7 L1143.5 1053.9 L1145.0 1051.5 L1146.5 1048.2 L1148.0 1044.4 L1149.5 1040.1 L1151.0 1034.3 L1152.5 1027.6 L1154.0 1021.4 L1155.5 1016.4 L1157.0 1011.9 L1158.5 1007.8 L1160.0 1004.6 L1161.5 1002.7 L1163.0 1001.2 L1164.5 999.9 L1166.0 999.0 L1167.5 998.6 L1169.0 998.7 L1170.5 999.3 L1172.0 1000.4 L1173.5 1001.8 L1175.0 1003.3 L1176.5 1005.8 L1178.0 1009.4 L1179.5 1013.3 L1181.0 1016.8 L1182.5 1020.2 L1184.0 1023.6 L1185.5 1026.7 L1187.0 1029.2 L1188.5 1031.0 L1190.0 1032.7 L1191.5 1034.2 L1193.0 1035.2 L1194.5 1035.7 L1196.0 1035.5 L1197.5 1035.0 L1199.0 1034.2 L1200.5 1033.2 L1202.0 1032.2 L1203.5 1031.2 L1205.1 1030.0 L1206.6 1028.7 L1208.1 1027.2 L1209.6 1025.7 L1211.1 1024.0 L1212.6 1022.3 L1214.1 1020.6 L1215.6 1018.9 L1217.1 1017.1 L1218.6 1015.3 L1220.1 1013.4 L1221.6 1011.4 L1223.1 1009.4 L1224.6 1007.4 L1226.1 1005.3 L1227.6 1003.2 L1229.1 1001.1 L1230.6 998.8 L1232.1 996.4 L1233.6 993.9 L1235.1 991.4 L1236.6 988.9 L1238.1 986.4 L1239.6 984.0 L1241.1 981.6 L1242.6 979.4 L1244.1 977.2 L1245.6 975.0 L1247.1 972.9 L1248.6 970.8 L1250.1 968.7 L1251.6 966.7 L1253.1 964.7 L1254.6 962.8 L1256.1 960.9 L1257.6 959.1 L1259.1 957.3 L1260.6 955.6 L1262.1 953.9 L1263.6 952.2 L1265.1 950.5 L1266.6 948.9 L1268.1 947.3 L1269.6 945.8 L1271.1 944.3 L1272.6 943.0 L1274.1 941.7 L1275.6 940.5 L1277.1 939.5 L1278.6 938.4 L1280.1 937.4 L1281.6 936.5 L1283.1 935.5 L1284.6 934.7 L1286.1 933.8 L1287.6 933.1 L1289.1 932.4 L1290.6 931.8 L1292.1 931.3 L1293.6 930.9 L1295.1 930.5 L1296.6 930.2 L1298.1 929.9 L1299.6 929.6 L1301.1 929.3 L1302.6 929.0 L1304.1 928.8 L1305.6 928.6 L1307.1 928.4 L1308.6 928.3 L1310.1 928.2 L1311.6 928.1 L1313.1 928.0 L1314.6 928.0 L1316.1 927.9 L1317.6 927.8 L1319.1 927.8 L1320.6 927.7 L1322.1 927.7 L1323.6 927.7 L1325.1 927.6 L1326.6 927.6 L1328.1 927.8 L1329.6 928.3 L1331.1 928.5 L1332.6 928.7 L1334.1 928.8 L1335.6 929.0 L1337.1 929.0 L1338.6 929.1 L1340.1 929.1 L1341.6 929.0 L1343.1 928.7 L1344.6 928.3 L1346.1 927.7 L1347.6 927.0 L1349.1 926.3 L1350.6 925.5 L1352.1 924.8 L1353.6 924.0 L1355.1 923.3 L1356.6 922.5 L1358.1 921.7 L1359.6 920.9 L1361.1 920.0 L1362.6 919.1 L1364.1 918.2 L1365.6 917.2 L1367.1 916.3 L1368.6 915.4 L1370.1 914.5 L1371.6 913.6 L1373.1 912.7 L1374.6 911.8 L1376.1 910.8 L1377.6 909.9 L1379.1 909.0 L1380.6 908.1 L1382.1 907.2 L1383.6 906.4 L1385.1 905.7 L1386.6 905.0 L1388.1 904.4 L1389.6 903.8 L1391.1 903.2 L1392.6 902.7 L1394.1 902.2 L1395.6 901.7 L1397.1 901.2 L1398.6 900.8 L1400.1 900.4 L1401.6 900.0 L1403.1 899.6 L1404.6 899.3 L1406.1 898.9 L1407.6 898.6 L1409.1 898.3 L1410.6 897.9 L1412.1 897.6 L1413.6 897.3 L1415.2 897.0 L1416.7 896.7 L1418.2 896.4 L1419.7 896.1 L1421.2 895.9 L1422.7 895.7 L1424.2 895.5 L1425.7 895.4 L1427.2 895.3 L1428.7 895.3 L1430.2 895.3 L1431.7 895.3 L1433.2 895.3 L1434.7 895.3 L1436.2 895.3 L1437.7 895.3 L1439.2 895.3 L1440.7 895.3 L1442.2 895.3 L1443.7 895.3 L1445.2 895.3 L1446.7 895.3 L1448.2 895.3 L1449.7 895.3 L1451.2 895.3 L1452.7 895.3 L1454.2 895.3 L1455.7 895.3 L1457.2 895.3 L1458.7 895.4 L1460.2 895.4 L1461.7 895.5 L1463.2 895.6 L1464.7 895.7 L1466.2 895.9 L1467.7 896.0 L1469.2 896.2 L1470.7 896.3 L1472.2 896.5 L1473.7 896.6 L1475.2 896.8 L1476.7 897.0 L1478.2 897.1 L1479.7 897.3 L1481.2 897.5 L1482.7 897.6 L1484.2 897.8 L1485.7 898.0 L1487.2 898.2 L1488.7 898.4 L1490.2 898.6 L1491.7 898.9 L1493.2 899.1 L1494.7 899.3 L1496.2 899.6 L1497.7 899.8 L1499.2 900.1 L1500.7 900.4 L1502.2 900.6 L1503.7 900.9 L1505.2 901.2 L1506.7 901.4 L1508.2 901.7 L1509.7 902.1 L1511.2 902.4 L1512.7 902.7 L1514.2 903.0 L1515.7 903.4 L1517.2 903.7 L1518.7 904.1 L1520.2 904.5 L1521.7 904.8 L1523.2 905.2 L1524.7 905.6 L1526.2 906.0 L1527.7 906.3 L1529.2 906.7 L1530.7 907.1 L1532.2 907.5 L1533.7 907.9 L1535.2 908.3 L1536.7 908.7 L1538.2 909.1 L1539.7 909.6 L1541.2 910.0 L1542.7 910.4 L1544.2 910.9 L1545.7 911.3 L1547.2 911.8 L1548.7 912.3 L1550.2 912.7 L1551.7 913.2 L1553.2 913.7 L1554.7 914.3 L1556.2 914.8 L1557.7 915.4 L1559.2 916.0 L1560.7 916.6 L1562.2 917.2 L1563.7 917.8 L1565.2 918.4 L1566.7 919.0 L1568.2 919.7 L1569.7 920.3 L1571.2 920.9 L1572.7 921.6 L1574.2 922.2 L1575.7 922.9 L1577.2 923.6 L1578.7 924.3 L1580.2 925.1 L1581.7 925.9 L1583.2 926.7 L1584.7 927.6 L1586.2 928.5 L1587.7 929.5 L1589.2 930.5 L1590.7 931.5 L1592.2 932.6 L1593.7 933.7 L1595.2 934.9 L1596.7 936.2 L1598.2 937.4 L1599.7 938.8 L1601.2 940.1 L1602.7 941.5 L1604.2 942.9 L1605.7 944.3 L1607.2 945.8 L1608.7 947.3 L1610.2 948.8 L1611.7 950.3 L1613.2 951.9 L1614.7 953.5 L1616.2 955.1 L1617.7 956.7 L1619.2 958.3 L1620.7 960.0 L1622.2 961.7 L1623.7 963.4 L1625.3 965.1 L1626.8 966.9 L1628.3 968.7 L1629.8 970.5 L1631.3 972.3 L1632.8 974.2 L1634.3 976.2 L1635.8 978.1 L1637.3 980.2 L1638.8 982.3 L1640.3 984.4 L1641.8 986.6 L1643.3 988.9 L1644.8 991.1 L1646.3 993.4 L1647.8 995.6 L1649.3 997.9 L1650.8 1000.2 L1652.3 1002.4 L1653.8 1004.7 L1655.3 1007.1 L1656.8 1009.5 L1658.3 1012.0 L1659.8 1014.7 L1661.3 1017.4 L1662.8 1020.4 L1664.3 1023.4 L1665.8 1026.6 L1667.3 1029.7 L1668.8 1032.8 L1670.3 1036.0 L1671.8 1039.1 L1673.3 1042.3 L1674.8 1045.5 L1676.3 1048.7 L1677.8 1051.9 L1679.3 1055.1 L1680.8 1058.4 L1682.3 1061.6 L1683.8 1064.8 L1685.3 1067.9 L1686.8 1071.1 L1688.3 1074.3 L1689.8 1077.4 L1691.3 1080.6 L1692.8 1083.8 L1694.3 1087.1 L1695.8 1090.3 L1697.3 1093.5 L1698.8 1096.7 L1700.3 1099.8 L1701.8 1102.9 L1703.3 1105.9 L1704.8 1108.8 L1706.3 1111.8 L1707.8 1114.7 L1709.3 1117.6 L1710.8 1120.5 L1712.3 1123.4 L1713.8 1126.2 L1715.3 1128.9 L1716.8 1131.3 L1718.3 1133.7 L1719.8 1136.0 L1721.3 1138.1 L1722.8 1140.2 L1724.3 1142.1 L1725.8 1144.0 L1727.3 1145.8 L1728.8 1147.5 L1730.3 1149.0 L1731.8 1150.3 L1733.3 1151.6 L1734.8 1152.8 L1736.3 1153.9 L1737.8 1154.8 L1739.3 1155.5 L1740.8 1156.0 L1742.3 1156.5 L1743.8 1156.9 L1745.3 1157.0 L1746.8 1156.9 L1748.3 1156.6 L1749.8 1156.3 L1751.3 1155.8 L1752.8 1155.3 L1754.3 1154.6 L1755.8 1153.6 L1757.3 1152.5 L1758.8 1151.3 L1760.3 1150.1 L1761.8 1148.7 L1763.3 1147.3 L1764.8 1145.7 L1766.3 1144.1 L1767.8 1142.4 L1769.3 1140.6 L1770.8 1138.8 L1772.3 1136.8 L1773.8 1134.8 L1775.3 1132.8 L1776.8 1130.7 L1778.3 1128.5 L1779.8 1126.2 L1781.3 1124.0 L1782.8 1121.6 L1784.3 1119.3 L1785.8 1116.8 L1787.3 1114.4 L1788.8 1111.9 L1790.3 1109.4 L1791.8 1107.0 L1793.3 1104.5 L1794.8 1102.1 L1796.3 1099.7 L1797.8 1097.3 L1799.3 1094.9 L1800.8 1092.4 L1802.3 1090.0 L1803.8 1087.5 L1805.3 1085.1 L1806.8 1082.6 L1808.3 1080.1 L1809.8 1077.5 L1811.3 1074.9 L1812.8 1072.4 L1814.3 1070.0 L1815.8 1067.7 L1817.3 1065.4 L1818.8 1063.3 L1820.3 1061.2 L1821.8 1059.1 L1823.3 1057.1 L1824.8 1055.2 L1826.3 1053.3 L1827.8 1051.5 L1829.3 1049.7 L1830.8 1047.9 L1832.3 1046.2 L1833.8 1044.6 L1835.4 1043.0 L1836.9 1041.4 L1838.4 1039.9 L1839.9 1038.5 L1841.4 1037.1 L1842.9 1035.8 L1844.4 1034.5 L1845.9 1033.3 L1847.4 1032.0 L1848.9 1030.8 L1850.4 1029.6 L1851.9 1028.4 L1853.4 1027.3 L1854.9 1026.1 L1856.4 1025.0 L1857.9 1024.0 L1859.4 1022.9 L1860.9 1021.9 L1862.4 1020.9 L1863.9 1019.9 L1865.4 1019.0 L1866.9 1018.1 L1868.4 1017.1 L1869.9 1016.2 L1871.4 1015.4 L1872.9 1014.5 L1874.4 1013.6 L1875.9 1012.7 L1877.4 1011.8 L1878.9 1011.0 L1880.4 1010.2 L1881.9 1009.4 L1883.4 1008.7 L1884.9 1008.0 L1886.4 1007.3 L1887.9 1006.6 L1889.4 1006.0 L1890.9 1005.4 L1892.4 1004.7 L1893.9 1004.1 L1895.4 1003.4 L1896.9 1002.8 L1898.4 1002.1 L1899.9 1001.4 L1901.4 1000.8 L1902.9 1000.1 L1904.4 999.5 L1905.9 998.9 L1907.4 998.3 L1908.9 997.7 L1910.4 997.1 L1911.9 996.6 L1913.4 996.0 L1914.9 995.5 L1916.4 995.0 L1917.9 994.5 L1919.4 994.0 L1920.9 993.5 L1922.4 993.1 L1923.9 992.6 L1925.4 992.2 L1926.9 991.7 L1928.4 991.2 L1929.9 990.6 L1931.4 990.0 L1932.9 989.4 L1934.4 988.9 L1935.9 988.3 L1937.4 987.9 L1938.9 987.5 L1940.4 987.1 L1941.9 986.7 L1943.4 986.3 L1944.9 986.0 L1946.4 985.7 L1947.9 985.3 L1949.4 985.0 L1950.9 984.7 L1952.4 984.3 L1953.9 983.9 L1955.4 983.6 L1956.9 983.2 L1958.4 982.8 L1959.9 982.4 L1961.4 982.0 L1962.9 981.6 L1964.4 981.2 L1965.9 980.8 L1967.4 980.4 L1968.9 980.0 L1970.4 979.6 L1971.9 979.3 L1973.4 978.9 L1974.9 978.6 L1976.4 978.3 L1977.9 977.9 L1979.4 977.6 L1980.9 977.3 L1982.4 977.0 L1983.9 976.6 L1985.4 976.3 L1986.9 976.0 L1988.4 975.7 L1989.9 975.4 L1991.4 975.1 L1992.9 974.8 L1994.4 974.5 L1995.9 974.2 L1997.4 973.9 L1998.9 973.6 L2000.4 973.3 L2001.9 973.0 L2003.4 972.7 L2004.9 972.4 L2006.4 972.1 L2007.9 971.8 L2009.4 971.6 L2010.9 971.3 L2012.4 971.0 L2013.9 970.8 L2015.4 970.5 L2016.9 970.2 L2018.4 970.0 L2019.9 969.7 L2021.4 969.4 L2022.9 969.2 L2024.4 968.9 L2025.9 968.6 L2027.4 968.4 L2028.9 968.1 L2030.4 967.8 L2031.9 967.6 L2033.4 967.3 L2034.9 967.1 L2036.4 966.9 L2037.9 966.6 L2039.4 966.4 L2040.9 966.2 L2042.4 966.0 L2043.9 965.8 L2045.5 965.6 L2047.0 965.4 L2048.5 965.2 L2050.0 965.1 L2051.5 964.9 L2053.0 964.7 L2054.5 964.5 L2056.0 964.3 L2057.5 964.1 L2059.0 963.9 L2060.5 963.6 L2062.0 963.4 L2063.5 963.2 L2065.0 963.0 L2066.5 962.8 L2068.0 962.6 L2069.5 962.3 L2071.0 962.2 L2072.5 962.0 L2074.0 961.8 L2075.5 961.6 L2077.0 961.4 L2078.5 961.3 L2080.0 961.1 L2081.5 961.0 L2083.0 960.8 L2084.5 960.7 L2086.0 960.5 L2087.5 960.3 L2089.0 960.2 L2090.5 960.0 L2092.0 959.8 L2093.5 959.6 L2095.0 959.5 L2096.5 959.3 L2098.0 959.1 L2099.5 958.9 L2101.0 958.7 L2102.5 958.5 L2104.0 958.4 L2105.5 958.2 L2107.0 958.0 L2108.5 957.8 L2110.0 957.6 L2111.5 957.4 L2113.0 957.2 L2114.5 957.0 L2116.0 956.8 L2117.5 956.6 L2119.0 956.4 L2120.5 956.2 L2122.0 956.0 L2123.5 955.9 L2125.0 955.7 L2126.5 955.5 L2128.0 955.4 L2129.5 955.2 L2131.0 955.1 L2132.5 955.0 L2134.0 954.8 L2135.5 954.7 L2137.0 954.5 L2138.5 954.4 L2140.0 954.2 L2141.5 954.0 L2143.0 953.9 L2144.5 953.7 L2146.0 953.5 L2147.5 953.3 L2149.0 953.1 L2150.5 953.0 L2152.0 952.8 L2153.5 952.6 L2155.0 952.4 L2156.5 952.2 L2158.0 952.0 L2159.5 951.9 L2161.0 951.7 L2162.5 951.5 L2164.0 951.3 L2165.5 951.1 L2167.0 951.0 L2168.5 950.8 L2170.0 950.6 L2171.5 950.4 L2173.0 950.2 L2174.5 950.1 L2176.0 949.9 L2177.5 949.7 L2179.0 949.5 L2180.5 949.3 L2182.0 949.1 L2183.5 949.0 L2185.0 948.8 L2186.5 948.6 L2188.0 948.4 L2189.5 948.3 L2191.0 948.1 L2192.5 947.9 L2194.0 947.7 L2195.5 947.6 L2197.0 947.4 L2198.5 947.3 L2200.0 947.1 L2201.5 946.9 L2203.0 946.8 L2204.5 946.6 L2206.0 946.4 L2207.5 946.3 L2209.0 946.1 L2210.5 945.9 L2212.0 945.8 L2213.5 945.6 L2215.0 945.4 L2216.5 945.3 L2218.0 945.1 L2219.5 944.9 L2221.0 944.8 L2222.5 944.6 L2224.0 944.5 L2225.5 944.3 L2227.0 944.1 L2228.5 944.0 L2230.0 943.8 L2231.5 943.7 L2233.0 943.5 L2234.5 943.4 L2236.0 943.2 L2237.5 943.1 L2239.0 942.9 L2240.5 942.8 L2242.0 942.6 L2243.5 942.5 L2245.0 942.3 L2246.5 942.2 L2248.0 942.0 L2249.5 941.9 L2251.0 941.8" fill="none" stroke="#000" stroke-width="9.9" stroke-linejoin="bevel"/>
<path d="M155.6 883.8 L157.2 894.1 L158.7 902.5 L160.2 909.0 L161.7 913.9 L163.3 918.1 L164.8 921.7 L166.3 924.8 L167.8 927.7 L169.4 930.2 L170.9 932.4 L172.4 934.3 L173.9 936.0 L175.5 937.6 L177.0 939.0 L178.5 940.1 L180.0 940.6 L181.6 940.1 L183.1 938.4 L184.6 936.2 L186.1 934.2 L187.7 932.8 L189.2 931.3 L190.7 930.1 L192.3 929.4 L193.8 929.4 L195.3 929.8 L196.8 930.4 L198.4 931.3 L199.9 932.4 L201.4 933.9 L202.9 937.2 L204.5 942.6 L206.0 950.3 L207.5 968.0 L209.0 996.1 L210.6 1048.2 L212.1 1100.2 L213.6 1147.4 L215.1 1178.0 L216.7 1197.4 L218.2 1173.0 L219.8 1139.4 L221.3 1098.1 L222.8 1070.4 L224.4 1048.4 L225.9 1033.1 L227.5 1022.9 L229.0 1014.7 L230.5 1008.7 L232.1 1005.1 L233.6 1002.4 L235.2 1000.2 L236.7 998.8 L238.3 998.7 L239.8 1000.7 L241.3 1004.4 L242.9 1009.1 L244.4 1013.7 L246.0 1019.4 L247.5 1026.3 L249.1 1033.3 L250.6 1039.3 L252.1 1043.5 L253.7 1047.2 L255.2 1050.4 L256.8 1053.0 L258.3 1054.8 L259.8 1051.3 L261.3 1048.1 L262.8 1045.3 L264.3 1043.0 L265.8 1041.4 L267.3 1039.9 L268.8 1038.6 L270.3 1037.6 L271.8 1037.1 L273.3 1037.3 L274.8 1038.7 L276.3 1041.1 L277.8 1044.4 L279.3 1048.4 L280.8 1056.0 L282.3 1067.7 L283.8 1084.6 L285.3 1115.4 L286.8 1171.6 L288.3 1298.2 L289.8 1597.7 L291.3 1343.5 L292.8 1208.4 L294.4 1129.4 L295.9 1080.2 L297.4 1047.1 L298.9 1024.0 L300.4 1006.1 L301.9 996.1 L303.5 991.1 L305.0 987.1 L306.5 984.1 L308.0 982.5 L309.5 982.3 L311.0 982.8 L312.6 984.0 L314.1 985.5 L315.6 987.4 L317.1 989.8 L318.6 993.9 L320.2 999.8 L321.7 1008.0 L323.2 1025.8 L324.7 1055.1 L326.2 1099.2 L327.7 1157.6 L329.3 1215.6 L330.8 1267.5 L332.3 1311.3 L333.8 1266.9 L335.3 1217.4 L336.8 1161.2 L338.3 1124.6 L339.8 1102.0 L341.3 1085.2 L342.8 1074.4 L344.3 1066.9 L345.8 1061.0 L347.3 1056.9 L348.8 1054.8 L350.3 1053.4 L351.8 1052.3 L353.3 1051.5 L354.8 1051.2 L356.3 1051.4 L357.8 1052.7 L359.4 1054.9 L360.9 1057.7 L362.4 1060.9 L363.9 1065.7 L365.4 1073.0 L366.9 1081.8 L368.4 1091.6 L369.9 1104.8 L371.4 1118.9 L372.9 1130.1 L374.4 1139.2 L375.9 1146.8 L377.4 1138.1 L378.9 1128.1 L380.4 1115.8 L382.0 1101.5 L383.5 1089.1 L385.0 1079.8 L386.5 1071.4 L388.0 1063.9 L389.6 1057.0 L391.1 1050.4 L392.6 1044.1 L394.1 1038.0 L395.6 1032.1 L397.2 1026.4 L398.7 1021.1 L400.2 1016.1 L401.7 1011.5 L403.2 1007.4 L404.8 1003.6 L406.3 1000.0 L407.8 996.5 L409.3 993.3 L410.8 990.2 L412.3 987.4 L413.9 984.7 L415.4 982.2 L416.9 979.9 L418.4 977.7 L419.9 975.6 L421.5 973.5 L423.0 971.6 L424.5 970.0 L426.0 968.8 L427.5 967.9 L429.1 967.2 L430.6 966.6 L432.1 966.1 L433.6 965.9 L435.1 966.4 L436.7 968.7 L438.2 972.9 L439.7 980.4 L441.2 1005.2 L442.7 1029.9 L444.2 1053.1 L445.9 1033.4 L447.5 1018.5 L449.1 1005.0 L450.7 996.5 L452.3 997.7 L453.9 1006.6 L455.5 1018.9 L457.1 1037.7 L458.7 1061.9 L460.3 1081.9 L461.9 1098.8 L463.5 1113.8 L465.1 1127.0 L466.7 1138.3 L468.2 1127.8 L469.7 1115.6 L471.2 1100.6 L472.7 1084.7 L474.2 1070.9 L475.7 1058.8 L477.2 1047.5 L478.7 1037.1 L480.2 1027.3 L481.8 1017.9 L483.3 1009.0 L484.8 1000.6 L486.3 992.7 L487.8 985.3 L489.3 978.4 L490.8 971.7 L492.3 965.4 L493.8 959.4 L495.3 953.6 L496.8 948.1 L498.3 942.8 L499.8 937.6 L501.3 932.4 L502.8 927.3 L504.3 922.4 L505.8 917.8 L507.3 913.5 L508.8 909.6 L510.3 906.3 L511.8 903.3 L513.3 900.5 L514.8 897.8 L516.3 895.4 L517.8 893.3 L519.3 891.4 L520.8 890.0 L522.3 888.9 L523.8 887.9 L525.3 886.9 L526.8 886.0 L528.3 885.2 L529.8 884.5 L531.3 883.9 L532.9 883.5 L534.4 883.3 L535.9 883.2 L537.4 883.3 L538.9 883.7 L540.4 884.1 L541.9 884.8 L543.4 885.5 L544.9 886.4 L546.4 887.3 L547.9 888.2 L549.4 889.2 L550.9 890.2 L552.4 891.5 L553.9 893.0 L555.4 894.8 L556.9 896.6 L558.4 898.6 L559.9 900.7 L561.4 902.8 L562.9 905.0 L564.4 907.2 L565.9 909.5 L567.4 911.9 L568.9 914.4 L570.4 917.1 L571.9 919.8 L573.4 922.7 L574.9 925.6 L576.4 928.6 L577.9 931.6 L579.4 934.7 L580.9 937.8 L582.4 941.0 L583.9 944.4 L585.5 947.9 L587.0 951.4 L588.5 955.1 L590.0 958.8 L591.5 962.6 L593.0 966.4 L594.5 970.3 L596.0 974.2 L597.5 978.3 L599.0 982.4 L600.5 986.5 L602.0 990.8 L603.5 995.0 L605.0 999.4 L606.5 1003.7 L608.0 1008.1 L609.5 1012.4 L611.0 1016.8 L612.5 1021.3 L614.0 1025.8 L615.5 1030.3 L617.0 1034.9 L618.5 1039.4 L620.0 1044.0 L621.5 1048.5 L623.0 1053.1 L624.5 1057.5 L626.0 1062.0 L627.5 1066.4 L629.0 1070.8 L630.5 1075.2 L632.0 1079.7 L633.5 1084.3 L635.0 1088.9 L636.5 1093.6 L638.1 1098.4 L639.6 1103.3 L641.1 1108.3 L642.6 1113.4 L644.1 1118.5 L645.6 1123.7 L647.1 1128.9 L648.6 1134.1 L650.1 1139.4 L651.6 1144.7 L653.1 1150.1 L654.6 1155.6 L656.1 1161.1 L657.6 1166.7 L659.1 1172.3 L660.6 1177.8 L662.1 1183.2 L663.6 1188.4 L665.1 1193.4 L666.6 1198.3 L668.1 1203.2 L669.6 1208.1 L671.1 1212.8 L672.6 1217.3 L674.1 1221.5 L675.6 1225.4 L677.1 1228.8 L678.6 1232.1 L680.1 1235.2 L681.6 1238.0 L683.1 1240.7 L684.6 1243.1 L686.1 1245.2 L687.7 1243.9 L689.2 1241.4 L690.7 1238.1 L692.2 1234.2 L693.7 1228.7 L695.2 1221.5 L696.7 1213.6 L698.2 1205.7 L699.7 1196.9 L701.2 1187.5 L702.8 1178.0 L704.3 1168.9 L705.8 1160.0 L707.3 1151.1 L708.8 1142.4 L710.3 1133.8 L711.8 1125.6 L713.3 1117.7 L714.8 1110.1 L716.3 1102.8 L717.9 1095.7 L719.4 1088.9 L720.9 1082.4 L722.4 1076.4 L723.9 1070.8 L725.4 1065.4 L726.9 1060.2 L728.4 1055.2 L729.9 1050.2 L731.4 1045.1 L732.9 1039.9 L734.5 1034.5 L736.0 1029.1 L737.5 1023.8 L739.0 1018.9 L740.5 1014.6 L742.0 1010.7 L743.5 1007.0 L745.0 1003.6 L746.5 1000.3 L748.0 997.1 L749.6 994.0 L751.1 991.0 L752.6 988.0 L754.1 984.8 L755.6 981.7 L757.1 978.6 L758.6 975.7 L760.1 973.1 L761.6 970.8 L763.1 968.9 L764.7 967.5 L766.2 966.1 L767.7 964.9 L769.2 963.6 L770.7 962.5 L772.2 961.4 L773.7 960.5 L775.2 959.7 L776.7 959.1 L778.2 958.6 L779.8 958.4 L781.3 958.3 L782.8 958.6 L784.3 959.3 L785.8 960.2 L787.3 961.4 L788.8 962.8 L790.3 964.4 L791.8 966.2 L793.3 968.0 L794.9 970.4 L796.4 973.8 L797.9 978.0 L799.4 982.7 L800.9 987.9 L802.4 993.2 L803.9 998.5 L805.4 1004.3 L806.9 1010.7 L808.4 1017.5 L810.0 1024.5 L811.5 1031.6 L813.0 1038.7 L814.5 1046.2 L816.0 1053.8 L817.5 1061.5 L819.0 1069.2 L820.5 1076.8 L822.0 1084.5 L823.5 1092.2 L825.1 1099.9 L826.6 1107.4 L828.1 1114.7 L829.6 1121.7 L831.1 1128.3 L832.6 1134.6 L834.1 1141.0 L835.6 1147.5 L837.1 1154.2 L838.6 1160.9 L840.2 1167.6 L841.7 1174.7 L843.2 1182.4 L844.7 1191.2 L846.2 1201.5 L847.7 1213.0 L849.2 1225.5 L850.7 1238.8 L852.2 1253.5 L853.7 1269.8 L855.2 1289.0 L856.8 1310.4 L858.3 1329.6 L859.8 1343.8 L861.3 1356.4 L862.8 1371.7 L864.3 1396.1 L865.8 1428.7 L867.3 1456.1 L868.8 1481.5 L870.3 1460.9 L871.9 1435.8 L873.4 1415.2 L874.9 1398.2 L876.4 1385.6 L877.9 1369.4 L879.4 1346.4 L880.9 1325.5 L882.4 1308.7 L883.9 1294.1 L885.4 1282.0 L886.9 1270.8 L888.4 1261.1 L889.9 1254.0 L891.4 1250.1 L892.9 1247.0 L894.4 1244.5 L895.9 1242.7 L897.5 1241.6 L899.0 1241.1 L900.5 1240.8 L902.0 1240.5 L903.5 1240.3 L905.0 1239.9 L906.5 1239.4 L908.0 1238.7 L909.5 1237.7 L911.0 1236.4 L912.5 1234.6 L914.0 1231.7 L915.5 1225.7 L917.0 1218.2 L918.5 1210.5 L920.0 1203.1 L921.5 1195.1 L923.1 1186.9 L924.6 1178.9 L926.1 1171.6 L927.6 1164.6 L929.1 1157.7 L930.6 1151.0 L932.1 1144.5 L933.6 1138.3 L935.1 1132.3 L936.6 1126.8 L938.1 1121.5 L939.6 1116.5 L941.1 1111.6 L942.6 1107.0 L944.1 1102.6 L945.6 1098.4 L947.1 1094.5 L948.7 1090.8 L950.2 1087.2 L951.7 1083.9 L953.2 1080.6 L954.7 1077.5 L956.2 1074.5 L957.7 1071.7 L959.2 1068.9 L960.7 1066.3 L962.2 1063.8 L963.7 1061.4 L965.2 1059.1 L966.7 1056.8 L968.2 1054.6 L969.7 1052.5 L971.2 1050.5 L972.7 1048.5 L974.3 1046.7 L975.8 1044.9 L977.3 1043.2 L978.8 1041.6 L980.3 1040.1 L981.8 1038.7 L983.3 1037.3 L984.8 1036.0 L986.3 1034.7 L987.8 1033.5 L989.3 1032.4 L990.8 1031.4 L992.3 1030.5 L993.8 1029.7 L995.3 1028.9 L996.8 1028.0 L998.3 1027.2 L999.9 1026.5 L1001.4 1025.8 L1002.9 1025.2 L1004.4 1024.8 L1005.9 1024.5 L1007.4 1024.4 L1008.9 1024.6 L1010.4 1025.0 L1011.9 1025.6 L1013.4 1026.4 L1014.9 1027.3 L1016.4 1028.4 L1017.9 1029.6 L1019.4 1031.0 L1020.9 1033.1 L1022.4 1035.9 L1023.9 1039.3 L1025.5 1043.0 L1027.0 1047.0 L1028.5 1051.6 L1030.0 1057.0 L1031.5 1063.3 L1033.0 1070.2 L1034.5 1077.8 L1036.0 1086.7 L1037.5 1096.8 L1039.0 1107.5 L1040.5 1118.3 L1042.0 1130.0 L1043.5 1142.0 L1045.0 1153.6 L1046.5 1165.3 L1048.0 1176.5 L1049.5 1184.4 L1051.1 1190.8 L1052.6 1195.8 L1054.1 1198.8 L1055.6 1193.2 L1057.1 1185.8 L1058.6 1177.1 L1060.1 1165.4 L1061.7 1152.3 L1063.2 1140.2 L1064.7 1128.4 L1066.2 1116.8 L1067.7 1105.9 L1069.2 1095.8 L1070.8 1086.1 L1072.3 1076.9 L1073.8 1068.2 L1075.3 1060.2 L1076.8 1052.8 L1078.3 1045.9 L1079.9 1039.3 L1081.4 1033.2 L1082.9 1027.4 L1084.4 1021.7 L1085.9 1016.3 L1087.5 1011.2 L1089.0 1006.5 L1090.5 1002.3 L1092.0 998.5 L1093.5 994.9 L1095.0 991.6 L1096.6 988.5 L1098.1 985.7 L1099.6 983.4 L1101.1 981.4 L1102.6 979.7 L1104.1 978.0 L1105.7 976.5 L1107.2 975.2 L1108.7 974.0 L1110.2 973.1 L1111.7 972.4 L1113.3 971.8 L1114.8 971.2 L1116.3 970.7 L1117.8 970.3 L1119.3 969.9 L1120.8 969.7 L1122.4 969.6 L1123.9 969.6 L1125.4 970.1 L1126.9 971.0 L1128.4 972.1 L1129.9 973.5 L1131.5 975.1 L1133.0 976.8 L1134.5 979.0 L1136.0 982.0 L1137.5 985.7 L1139.0 989.8 L1140.6 994.2 L1142.1 998.8 L1143.6 1004.0 L1145.1 1009.9 L1146.6 1016.5 L1148.2 1023.7 L1149.7 1031.8 L1151.2 1041.1 L1152.7 1051.6 L1154.2 1063.4 L1155.7 1077.9 L1157.3 1094.0 L1158.8 1109.5 L1160.3 1124.6 L1161.8 1139.8 L1163.3 1155.3 L1164.8 1171.3 L1166.4 1185.7 L1167.9 1197.5 L1169.4 1207.3 L1170.9 1201.0 L1172.5 1193.6 L1174.0 1185.3 L1175.6 1174.9 L1177.1 1164.1 L1178.6 1154.8 L1180.2 1145.8 L1181.7 1137.8 L1183.2 1131.9 L1184.8 1127.9 L1186.3 1124.5 L1187.9 1122.1 L1189.4 1121.5 L1190.9 1123.3 L1192.5 1127.0 L1194.0 1131.7 L1195.5 1137.3 L1197.1 1145.4 L1198.6 1156.7 L1200.2 1174.7 L1201.7 1200.7 L1203.2 1230.3 L1204.8 1262.0 L1206.3 1292.5 L1207.8 1323.4 L1209.4 1357.5 L1210.9 1425.3 L1212.5 1530.2 L1214.0 1657.3 L1215.5 1815.7 L1217.0 1730.2 L1218.5 1629.2 L1220.0 1534.6 L1221.5 1437.0 L1223.0 1381.2 L1224.5 1368.8 L1226.0 1355.0 L1227.5 1322.3 L1229.0 1288.0 L1230.5 1257.1 L1232.0 1232.1 L1233.5 1211.3 L1235.0 1192.9 L1236.5 1175.9 L1238.0 1160.0 L1239.5 1145.4 L1241.0 1132.0 L1242.5 1119.7 L1244.0 1108.0 L1245.6 1097.2 L1247.1 1087.3 L1248.6 1078.5 L1250.1 1070.4 L1251.6 1062.8 L1253.1 1055.6 L1254.6 1048.9 L1256.1 1042.6 L1257.6 1036.7 L1259.1 1031.3 L1260.6 1026.2 L1262.1 1021.4 L1263.6 1016.8 L1265.1 1012.4 L1266.6 1008.3 L1268.1 1004.3 L1269.6 1000.6 L1271.1 997.2 L1272.6 993.9 L1274.1 990.9 L1275.6 988.1 L1277.1 985.4 L1278.6 982.9 L1280.1 980.4 L1281.6 978.1 L1283.1 975.9 L1284.6 973.7 L1286.1 971.6 L1287.6 969.6 L1289.1 967.6 L1290.6 965.6 L1292.1 963.7 L1293.6 961.8 L1295.1 960.0 L1296.6 958.2 L1298.1 956.5 L1299.6 954.8 L1301.1 953.1 L1302.6 951.5 L1304.1 949.9 L1305.6 948.3 L1307.1 946.7 L1308.6 945.1 L1310.1 943.5 L1311.6 941.9 L1313.1 940.3 L1314.6 938.8 L1316.1 937.3 L1317.6 935.8 L1319.1 934.3 L1320.6 932.9 L1322.1 931.5 L1323.6 930.1 L1325.1 928.7 L1326.6 927.4 L1328.1 926.2 L1329.6 925.0 L1331.1 923.8 L1332.6 922.7 L1334.1 921.7 L1335.6 920.6 L1337.1 919.6 L1338.6 918.7 L1340.1 917.7 L1341.6 916.8 L1343.1 915.8 L1344.6 914.9 L1346.1 914.0 L1347.6 913.0 L1349.1 912.1 L1350.6 911.2 L1352.1 910.3 L1353.6 909.5 L1355.1 908.6 L1356.6 907.7 L1358.1 906.9 L1359.6 906.1 L1361.1 905.3 L1362.6 904.6 L1364.1 903.9 L1365.6 903.1 L1367.1 902.4 L1368.6 901.7 L1370.1 901.0 L1371.6 900.3 L1373.1 899.6 L1374.6 899.0 L1376.1 898.4 L1377.6 897.7 L1379.1 897.2 L1380.6 896.6 L1382.1 896.1 L1383.6 895.6 L1385.1 895.2 L1386.6 894.7 L1388.1 894.3 L1389.6 893.9 L1391.1 893.5 L1392.6 893.1 L1394.1 892.8 L1395.6 892.4 L1397.1 892.1 L1398.6 891.7 L1400.1 891.4 L1401.6 891.1 L1403.1 890.8 L1404.6 890.6 L1406.1 890.3 L1407.6 890.1 L1409.1 889.9 L1410.6 889.7 L1412.1 889.5 L1413.6 889.2 L1415.1 889.1 L1416.6 888.9 L1418.1 888.7 L1419.6 888.5 L1421.1 888.3 L1422.6 888.2 L1424.1 888.0 L1425.6 887.9 L1427.1 887.7 L1428.6 887.6 L1430.1 887.5 L1431.6 887.4 L1433.1 887.4 L1434.6 887.3 L1436.1 887.3 L1437.6 887.2 L1439.1 887.2 L1440.6 887.1 L1442.1 887.1 L1443.6 887.0 L1445.1 887.0 L1446.6 887.0 L1448.2 886.9 L1449.7 886.9 L1451.2 886.9 L1452.7 886.9 L1454.2 886.8 L1455.7 886.8 L1457.2 886.8 L1458.7 886.8 L1460.2 886.8 L1461.7 886.8 L1463.2 886.8 L1464.7 886.8 L1466.2 886.9 L1467.7 886.9 L1469.2 887.0 L1470.7 887.0 L1472.2 887.1 L1473.7 887.2 L1475.2 887.3 L1476.7 887.4 L1478.2 887.5 L1479.7 887.6 L1481.2 887.7 L1482.7 887.8 L1484.2 887.9 L1485.7 888.1 L1487.2 888.2 L1488.7 888.3 L1490.2 888.4 L1491.7 888.5 L1493.2 888.7 L1494.7 888.8 L1496.2 888.9 L1497.7 889.0 L1499.2 889.2 L1500.7 889.3 L1502.2 889.5 L1503.7 889.7 L1505.2 889.8 L1506.7 890.0 L1508.2 890.2 L1509.7 890.3 L1511.2 890.5 L1512.7 890.7 L1514.2 890.9 L1515.7 891.1 L1517.2 891.3 L1518.7 891.5 L1520.2 891.7 L1521.7 891.8 L1523.2 892.0 L1524.7 892.2 L1526.2 892.4 L1527.7 892.6 L1529.2 892.8 L1530.7 893.0 L1532.2 893.2 L1533.7 893.3 L1535.2 893.5 L1536.7 893.7 L1538.2 893.9 L1539.7 894.1 L1541.2 894.3 L1542.7 894.5 L1544.2 894.7 L1545.7 895.0 L1547.2 895.2 L1548.7 895.4 L1550.2 895.6 L1551.7 895.8 L1553.2 896.0 L1554.7 896.2 L1556.2 896.4 L1557.7 896.6 L1559.2 896.8 L1560.7 897.0 L1562.2 897.2 L1563.7 897.4 L1565.2 897.6 L1566.7 897.8 L1568.2 898.0 L1569.7 898.1 L1571.2 898.3 L1572.7 898.5 L1574.2 898.7 L1575.7 898.8 L1577.2 899.0 L1578.7 899.2 L1580.2 899.3 L1581.7 899.5 L1583.2 899.6 L1584.7 899.8 L1586.2 900.0 L1587.7 900.1 L1589.2 900.3 L1590.7 900.5 L1592.2 900.6 L1593.7 900.8 L1595.2 901.0 L1596.7 901.2 L1598.2 901.4 L1599.7 901.6 L1601.2 901.8 L1602.7 902.1 L1604.2 902.3 L1605.7 902.6 L1607.2 902.9 L1608.7 903.2 L1610.2 903.5 L1611.7 903.8 L1613.2 904.0 L1614.7 904.3 L1616.2 904.5 L1617.7 904.7 L1619.2 904.9 L1620.7 905.1 L1622.2 905.3 L1623.7 905.5 L1625.2 905.7 L1626.7 905.9 L1628.2 906.1 L1629.7 906.2 L1631.2 906.4 L1632.7 906.6 L1634.2 906.8 L1635.7 907.0 L1637.2 907.3 L1638.7 907.5 L1640.2 907.7 L1641.7 907.9 L1643.2 908.2 L1644.7 908.4 L1646.2 908.7 L1647.7 908.9 L1649.3 909.1 L1650.8 909.4 L1652.3 909.6 L1653.8 909.9 L1655.3 910.2 L1656.8 910.4 L1658.3 910.7 L1659.8 911.0 L1661.3 911.2 L1662.8 911.5 L1664.3 911.8 L1665.8 912.1 L1667.3 912.3 L1668.8 912.6 L1670.3 912.9 L1671.8 913.2 L1673.3 913.5 L1674.8 913.8 L1676.3 914.1 L1677.8 914.4 L1679.3 914.8 L1680.8 915.1 L1682.3 915.4 L1683.8 915.7 L1685.3 916.1 L1686.8 916.4 L1688.3 916.8 L1689.8 917.1 L1691.3 917.5 L1692.8 917.9 L1694.3 918.2 L1695.8 918.6 L1697.3 919.0 L1698.8 919.4 L1700.3 919.8 L1701.8 920.2 L1703.3 920.6 L1704.8 921.0 L1706.3 921.5 L1707.8 921.9 L1709.3 922.3 L1710.8 922.8 L1712.3 923.2 L1713.8 923.7 L1715.3 924.2 L1716.8 924.7 L1718.3 925.2 L1719.8 925.7 L1721.3 926.2 L1722.8 926.7 L1724.3 927.2 L1725.8 927.7 L1727.3 928.3 L1728.8 928.8 L1730.3 929.4 L1731.8 930.0 L1733.3 930.6 L1734.8 931.2 L1736.3 931.8 L1737.8 932.5 L1739.3 933.1 L1740.8 933.8 L1742.3 934.5 L1743.8 935.2 L1745.3 936.0 L1746.8 936.8 L1748.3 937.7 L1749.8 938.5 L1751.3 939.4 L1752.8 940.3 L1754.3 941.2 L1755.8 942.1 L1757.3 943.0 L1758.8 944.0 L1760.3 944.9 L1761.8 945.9 L1763.3 946.9 L1764.8 948.0 L1766.3 949.0 L1767.8 950.1 L1769.3 951.2 L1770.8 952.4 L1772.3 953.6 L1773.8 954.8 L1775.3 956.0 L1776.8 957.2 L1778.3 958.5 L1779.8 959.8 L1781.3 961.1 L1782.8 962.4 L1784.3 963.7 L1785.8 965.1 L1787.3 966.4 L1788.8 967.8 L1790.3 969.2 L1791.8 970.7 L1793.3 972.1 L1794.8 973.6 L1796.3 975.1 L1797.8 976.6 L1799.3 978.1 L1800.8 979.6 L1802.3 981.2 L1803.8 982.7 L1805.3 984.1 L1806.8 985.5 L1808.3 986.9 L1809.8 988.2 L1811.3 989.5 L1812.8 990.9 L1814.3 992.2 L1815.8 993.6 L1817.3 995.0 L1818.8 996.5 L1820.3 998.1 L1821.8 999.9 L1823.3 1001.9 L1824.8 1004.0 L1826.3 1006.2 L1827.8 1008.4 L1829.3 1010.5 L1830.8 1012.5 L1832.3 1014.4 L1833.8 1015.9 L1835.3 1017.2 L1836.8 1018.4 L1838.3 1019.5 L1839.8 1020.5 L1841.3 1021.4 L1842.8 1022.2 L1844.3 1023.0 L1845.8 1023.7 L1847.3 1024.4 L1848.8 1025.1 L1850.3 1025.7 L1851.9 1026.2 L1853.4 1026.7 L1854.9 1027.1 L1856.4 1027.4 L1857.9 1027.7 L1859.4 1027.9 L1860.9 1028.1 L1862.4 1028.2 L1863.9 1028.3 L1865.4 1028.3 L1866.9 1028.1 L1868.4 1027.9 L1869.9 1027.6 L1871.4 1027.3 L1872.9 1026.9 L1874.4 1026.6 L1875.9 1026.2 L1877.4 1025.7 L1878.9 1025.1 L1880.4 1024.5 L1881.9 1023.9 L1883.4 1023.3 L1884.9 1022.6 L1886.4 1022.0 L1887.9 1021.4 L1889.4 1020.7 L1890.9 1020.1 L1892.4 1019.4 L1893.9 1018.7 L1895.4 1018.0 L1896.9 1017.4 L1898.4 1016.7 L1899.9 1016.1 L1901.4 1015.4 L1902.9 1014.7 L1904.4 1014.0 L1905.9 1013.4 L1907.4 1012.8 L1908.9 1012.2 L1910.4 1011.6 L1911.9 1011.0 L1913.4 1010.4 L1914.9 1009.9 L1916.4 1009.3 L1917.9 1008.8 L1919.4 1008.3 L1920.9 1007.8 L1922.4 1007.3 L1923.9 1006.9 L1925.4 1006.5 L1926.9 1006.1 L1928.4 1005.6 L1929.9 1005.0 L1931.4 1004.4 L1932.9 1003.5 L1934.4 1002.6 L1935.9 1001.7 L1937.4 1001.0 L1938.9 1000.3 L1940.4 999.6 L1941.9 998.9 L1943.4 998.3 L1944.9 997.6 L1946.4 997.0 L1947.9 996.4 L1949.4 995.8 L1950.9 995.3 L1952.4 994.7 L1953.9 994.1 L1955.4 993.5 L1956.9 992.9 L1958.4 992.3 L1959.9 991.7 L1961.4 991.1 L1962.9 990.5 L1964.4 990.0 L1965.9 989.4 L1967.4 988.9 L1968.9 988.3 L1970.4 987.8 L1971.9 987.3 L1973.4 986.8 L1974.9 986.3 L1976.4 985.8 L1977.9 985.3 L1979.4 984.8 L1980.9 984.3 L1982.4 983.9 L1983.9 983.4 L1985.4 982.9 L1986.9 982.5 L1988.4 982.0 L1989.9 981.6 L1991.4 981.1 L1992.9 980.7 L1994.4 980.3 L1995.9 979.8 L1997.4 979.4 L1998.9 979.0 L2000.4 978.6 L2001.9 978.2 L2003.4 977.8 L2004.9 977.4 L2006.4 977.1 L2007.9 976.7 L2009.4 976.4 L2010.9 976.0 L2012.4 975.7 L2013.9 975.4 L2015.4 975.1 L2016.9 974.7 L2018.4 974.4 L2019.9 974.1 L2021.4 973.8 L2022.9 973.5 L2024.4 973.2 L2025.9 973.0 L2027.4 972.7 L2028.9 972.4 L2030.4 972.1 L2031.9 971.9 L2033.4 971.6 L2034.9 971.4 L2036.4 971.1 L2037.9 970.9 L2039.4 970.6 L2040.9 970.4 L2042.4 970.1 L2043.9 969.9 L2045.4 969.7 L2046.9 969.5 L2048.4 969.3 L2049.9 969.0 L2051.4 968.8 L2053.0 968.6 L2054.5 968.4 L2056.0 968.1 L2057.5 967.9 L2059.0 967.7 L2060.5 967.5 L2062.0 967.2 L2063.5 967.0 L2065.0 966.8 L2066.5 966.5 L2068.0 966.3 L2069.5 966.1 L2071.0 965.9 L2072.5 965.7 L2074.0 965.5 L2075.5 965.3 L2077.0 965.1 L2078.5 964.9 L2080.0 964.8 L2081.5 964.6 L2083.0 964.4 L2084.5 964.2 L2086.0 964.1 L2087.5 963.9 L2089.0 963.7 L2090.5 963.5 L2092.0 963.3 L2093.5 963.1 L2095.0 962.9 L2096.5 962.7 L2098.0 962.5 L2099.5 962.3 L2101.0 962.1 L2102.5 961.9 L2104.0 961.8 L2105.5 961.6 L2107.0 961.4 L2108.5 961.2 L2110.0 961.0 L2111.5 960.8 L2113.0 960.6 L2114.5 960.4 L2116.0 960.2 L2117.5 960.0 L2119.0 959.8 L2120.5 959.6 L2122.0 959.4 L2123.5 959.2 L2125.0 959.0 L2126.5 958.9 L2128.0 958.7 L2129.5 958.5 L2131.0 958.3 L2132.5 958.1 L2134.0 958.0 L2135.5 957.8 L2137.0 957.6 L2138.5 957.4 L2140.0 957.2 L2141.5 957.1 L2143.0 956.9 L2144.5 956.7 L2146.0 956.5 L2147.5 956.4 L2149.0 956.2 L2150.5 956.0 L2152.0 955.8 L2153.5 955.6 L2155.0 955.4 L2156.5 955.3 L2158.0 955.1 L2159.5 954.9 L2161.0 954.7 L2162.5 954.5 L2164.0 954.3 L2165.5 954.1 L2167.0 953.9 L2168.5 953.7 L2170.0 953.5 L2171.5 953.3 L2173.0 953.1 L2174.5 952.9 L2176.0 952.7 L2177.5 952.6 L2179.0 952.4 L2180.5 952.2 L2182.0 952.0 L2183.5 951.8 L2185.0 951.7 L2186.5 951.5 L2188.0 951.3 L2189.5 951.1 L2191.0 951.0 L2192.5 950.8 L2194.0 950.6 L2195.5 950.4 L2197.0 950.3 L2198.5 950.1 L2200.0 949.9 L2201.5 949.8 L2203.0 949.6 L2204.5 949.5 L2206.0 949.3 L2207.5 949.1 L2209.0 949.0 L2210.5 948.8 L2212.0 948.7 L2213.5 948.5 L2215.0 948.4 L2216.5 948.2 L2218.0 948.1 L2219.5 947.9 L2221.0 947.8 L2222.5 947.6 L2224.0 947.5 L2225.5 947.3 L2227.0 947.2 L2228.5 947.0 L2230.0 946.9 L2231.5 946.7 L2233.0 946.6 L2234.5 946.4 L2236.0 946.3 L2237.5 946.1 L2239.0 946.0 L2240.5 945.8 L2242.0 945.7 L2243.5 945.5 L2245.0 945.4 L2246.5 945.2 L2248.0 945.1 L2249.5 944.9 L2251.0 944.8" fill="none" stroke="#0000ff" stroke-width="9.9" stroke-dasharray="1.85 0.95" stroke-linejoin="bevel"/>
</g>
<ellipse cx="1791.8" cy="1059.7" rx="458.7" ry="207.3" fill="none" stroke="#5e4232" stroke-width="3.6" stroke-dasharray="1.1 2.3"/>
<path class="ax" d="M155.5 1876.5 V855.5 H2250.5 V1876.5"/>
<path class="ax" d="M454.5 855.5 v21.6 M454.5 1876.5 v-21.6"/>
<path class="ax" d="M754.5 855.5 v21.6 M754.5 1876.5 v-21.6"/>
<path class="ax" d="M1352.5 855.5 v21.6 M1352.5 1876.5 v-21.6"/>
<path class="ax" d="M1652.5 855.5 v21.6 M1652.5 1876.5 v-21.6"/>
<path class="ax" d="M1951.5 855.5 v21.6 M1951.5 1876.5 v-21.6"/>
<path d="M1053.5 855.5 v21.6 M1053.5 1876.5 v-21.6" stroke="#f2f2f2" stroke-width="1.6"/>
<path class="ax" d="M155.5 982.5 h21.6 M2250.5 982.5 h-21.6"/>
<path class="ax" d="M155.5 1110.5 h21.6 M2250.5 1110.5 h-21.6"/>
<path class="ax" d="M155.5 1238.5 h21.6 M2250.5 1238.5 h-21.6"/>
<path class="ax" d="M155.5 1366.5 h21.6 M2250.5 1366.5 h-21.6"/>
<path class="ax" d="M155.5 1493.5 h21.6 M2250.5 1493.5 h-21.6"/>
<path class="ax" d="M155.5 1621.5 h21.6 M2250.5 1621.5 h-21.6"/>
<path class="ax" d="M155.5 1749.5 h21.6 M2250.5 1749.5 h-21.6"/>
<text class="tk" x="155.7" y="1923.3" text-anchor="middle">300</text>
<text class="tk" x="455.0" y="1923.3" text-anchor="middle">400</text>
<text class="tk" x="754.2" y="1923.3" text-anchor="middle">500</text>
<text class="tk" x="1053.5" y="1923.3" text-anchor="middle">600</text>
<text class="tk" x="1352.8" y="1923.3" text-anchor="middle">700</text>
<text class="tk" x="1652.1" y="1923.3" text-anchor="middle">800</text>
<text class="tk" x="1951.3" y="1923.3" text-anchor="middle">900</text>
<text class="tk" x="2250.6" y="1923.3" text-anchor="middle">1000</text>
<text class="tk" x="148" y="870.3" text-anchor="end">0</text>
<text class="tk" x="148" y="998.0" text-anchor="end">-5</text>
<text class="tk" x="148" y="1125.6" text-anchor="end">-10</text>
<text class="tk" x="148" y="1253.3" text-anchor="end">-15</text>
<text class="tk" x="148" y="1381.0" text-anchor="end">-20</text>
<text class="tk" x="148" y="1508.7" text-anchor="end">-25</text>
<text class="tk" x="148" y="1636.3" text-anchor="end">-30</text>
<text class="tk" x="148" y="1764.0" text-anchor="end">-35</text>
<text class="tk" x="148" y="1891.7" text-anchor="end">-40</text>
<text class="lb" x="1022.5" y="1971.4" textLength="361">Wavelength(nm)</text>
<text class="lb" transform="translate(69.8 1538.6) rotate(-90)" textLength="344">Reflectance(dB)</text>
<rect x="1710.3" y="1673.6" width="517.1" height="169.4" fill="#fff" stroke="#000" stroke-width="1.4"/>
<path d="M1722.5 1704.2 H1778.5" stroke="#ff0000" stroke-width="10" stroke-dasharray="1.85 0.95"/>
<path d="M1722.5 1758.5 H1778.5" stroke="#000" stroke-width="10"/>
<path d="M1722.5 1813.3 H1778.5" stroke="#0000ff" stroke-width="10" stroke-dasharray="1.85 0.95"/>
<text class="lg" x="1785" y="1719.5" textLength="352">One covid particle</text>
<text class="lg" x="1788" y="1774.3" textLength="400">Three covid particles</text>
<text class="lg" x="1786.5" y="1828.3" textLength="430">Without covid particle</text>
</g>
<text class="cap" y="2097.4" font-size="86"><tspan x="1106.2">(</tspan><tspan x="1132" font-weight="bold" font-size="85.5" textLength="46.5" lengthAdjust="spacingAndGlyphs">b</tspan><tspan x="1182">)</tspan></text>
</svg></body></html>
